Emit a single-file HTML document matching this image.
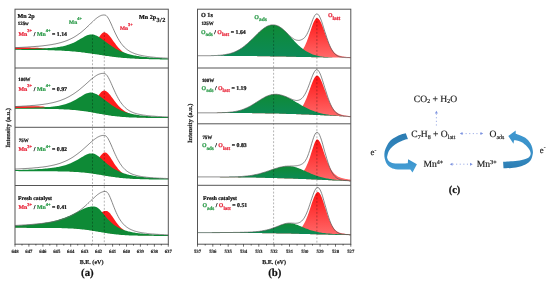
<!DOCTYPE html>
<html><head><meta charset="utf-8"><style>
html,body{margin:0;padding:0;background:#fff;}
body{width:550px;height:285px;overflow:hidden;}
svg{display:block;}
</style></head><body>
<svg width="550" height="285" viewBox="0 0 550 285" font-family="Liberation Serif, serif" text-rendering="geometricPrecision">
<rect width="550" height="285" fill="#fff"/>
<defs><linearGradient id="rg" x1="0" y1="0" x2="0" y2="1"><stop offset="0" stop-color="#ff1414"/><stop offset="1" stop-color="#ff6a6a"/></linearGradient><linearGradient id="gg" x1="0" y1="0" x2="0" y2="1"><stop offset="0" stop-color="#0f8a36"/><stop offset="1" stop-color="#0c8a58"/></linearGradient></defs>
<path d="M15,47.6 L16,47.6 L17,47.6 L18,47.6 L19,47.6 L20,47.6 L21,47.6 L22,47.6 L23,47.6 L24,47.6 L25,47.6 L26,47.6 L27,47.6 L28,47.6 L29,47.6 L30,47.6 L31,47.7 L32,47.7 L33,47.7 L34,47.7 L35,47.7 L36,47.7 L37,47.8 L38,47.8 L39,47.9 L40,47.9 L41.1,48 L42.1,48.2 L43.1,48.3 L44.1,48.4 L45.1,48.6 L46.1,48.8 L47.1,49 L48.1,49.2 L49.1,49.3 L50.1,49.5 L51.1,49.6 L52.1,49.7 L53.1,49.8 L54.1,49.8 L55.1,49.9 L56.1,49.9 L57.1,50 L58.1,50 L59.1,50.1 L60.1,50.1 L61.1,50.1 L62.1,50.2 L63.1,50.2 L64.1,50.2 L65.1,50.3 L66.1,50.3 L67.1,50.3 L68.1,50.4 L69.1,50.4 L70.1,50.4 L71.1,50.5 L72.1,50.5 L73.1,50.5 L74.1,50.6 L75.1,50.6 L76.1,50.6 L77.1,50.6 L78.1,50.6 L79.1,50.6 L80.1,50.6 L81.1,50.6 L82.1,50.5 L83.1,50.4 L84.1,50.3 L85.1,50.1 L86.1,49.9 L87.1,49.6 L88.1,49.2 L89.1,48.7 L90.1,48 L91.1,47.3 L92.2,46.4 L93.2,45.4 L94.2,44.3 L95.2,43 L96.2,41.6 L97.2,40.1 L98.2,38.6 L99.2,37.1 L100.2,35.6 L101.2,34.3 L102.2,33.3 L103.2,32.6 L104.2,32.3 L105.2,32.5 L106.2,32.9 L107.2,33.6 L108.2,34.5 L109.2,35.6 L110.2,36.8 L111.2,38.1 L112.2,39.5 L113.2,40.9 L114.2,42.3 L115.2,43.6 L116.2,45 L117.2,46.2 L118.2,47.4 L119.2,48.5 L120.2,49.6 L121.2,50.5 L122.2,51.4 L123.2,52.2 L124.2,52.9 L125.2,53.5 L126.2,54.1 L127.2,54.6 L128.2,55 L129.2,55.4 L130.2,55.8 L131.2,56.1 L132.2,56.3 L133.2,56.6 L134.2,56.8 L135.2,57 L136.2,57.1 L137.2,57.3 L138.2,57.4 L139.2,57.6 L140.2,57.7 L141.2,57.8 L142.2,57.9 L143.3,58 L144.3,58 L145.3,58.1 L146.3,58.2 L147.3,58.3 L148.3,58.3 L149.3,58.4 L150.3,58.4 L151.3,58.5 L152.3,58.5 L153.3,58.6 L154.3,58.6 L155.3,58.7 L156.3,58.7 L157.3,58.7 L158.3,58.8 L159.3,58.8 L160.3,58.8 L161.3,58.9 L162.3,58.9 L163.3,58.9 L164.3,58.9 L165.3,59 L166.3,59 L167.3,59 L168.3,59 L168.3,58.9 L167.3,58.9 L166.3,58.9 L165.3,58.9 L164.3,58.9 L163.3,58.9 L162.3,58.9 L161.3,58.9 L160.3,58.9 L159.3,58.8 L158.3,58.8 L157.3,58.8 L156.3,58.8 L155.3,58.8 L154.3,58.8 L153.3,58.8 L152.3,58.7 L151.3,58.7 L150.3,58.7 L149.3,58.7 L148.3,58.6 L147.3,58.6 L146.3,58.6 L145.3,58.6 L144.3,58.5 L143.3,58.5 L142.2,58.5 L141.2,58.4 L140.2,58.4 L139.2,58.4 L138.2,58.3 L137.2,58.3 L136.2,58.2 L135.2,58.2 L134.2,58.1 L133.2,58.1 L132.2,58 L131.2,58 L130.2,57.9 L129.2,57.8 L128.2,57.8 L127.2,57.7 L126.2,57.6 L125.2,57.5 L124.2,57.5 L123.2,57.4 L122.2,57.3 L121.2,57.2 L120.2,57.1 L119.2,57 L118.2,56.9 L117.2,56.8 L116.2,56.7 L115.2,56.5 L114.2,56.4 L113.2,56.3 L112.2,56.2 L111.2,56 L110.2,55.9 L109.2,55.8 L108.2,55.6 L107.2,55.5 L106.2,55.4 L105.2,55.2 L104.2,55.1 L103.2,54.9 L102.2,54.8 L101.2,54.6 L100.2,54.5 L99.2,54.3 L98.2,54.1 L97.2,54 L96.2,53.8 L95.2,53.7 L94.2,53.5 L93.2,53.4 L92.2,53.2 L91.1,53.1 L90.1,52.9 L89.1,52.8 L88.1,52.7 L87.1,52.5 L86.1,52.4 L85.1,52.2 L84.1,52.1 L83.1,52 L82.1,51.9 L81.1,51.8 L80.1,51.6 L79.1,51.5 L78.1,51.4 L77.1,51.3 L76.1,51.2 L75.1,51.1 L74.1,51 L73.1,50.9 L72.1,50.9 L71.1,50.8 L70.1,50.7 L69.1,50.6 L68.1,50.5 L67.1,50.5 L66.1,50.4 L65.1,50.4 L64.1,50.3 L63.1,50.2 L62.1,50.2 L61.1,50.1 L60.1,50.1 L59.1,50 L58.1,50 L57.1,50 L56.1,49.9 L55.1,49.9 L54.1,49.8 L53.1,49.8 L52.1,49.8 L51.1,49.8 L50.1,49.7 L49.1,49.7 L48.1,49.7 L47.1,49.6 L46.1,49.6 L45.1,49.6 L44.1,49.6 L43.1,49.6 L42.1,49.5 L41.1,49.5 L40,49.5 L39,49.5 L38,49.5 L37,49.5 L36,49.5 L35,49.5 L34,49.4 L33,49.4 L32,49.4 L31,49.4 L30,49.4 L29,49.4 L28,49.4 L27,49.4 L26,49.4 L25,49.4 L24,49.4 L23,49.4 L22,49.4 L21,49.3 L20,49.3 L19,49.3 L18,49.3 L17,49.3 L16,49.3 L15,49.3Z" fill="#ff1c1c"/>
<path d="M15,49.1 L16,49.1 L17,49.1 L18,49 L19,49 L20,49 L21,49 L22,49 L23,49 L24,48.9 L25,48.9 L26,48.9 L27,48.9 L28,48.9 L29,48.8 L30,48.8 L31,48.8 L32,48.8 L33,48.7 L34,48.7 L35,48.7 L36,48.6 L37,48.6 L38,48.6 L39,48.5 L40,48.5 L41.1,48.5 L42.1,48.4 L43.1,48.4 L44.1,48.3 L45.1,48.3 L46.1,48.2 L47.1,48.2 L48.1,48.1 L49.1,48 L50.1,48 L51.1,47.9 L52.1,47.8 L53.1,47.7 L54.1,47.6 L55.1,47.5 L56.1,47.4 L57.1,47.2 L58.1,47.1 L59.1,46.9 L60.1,46.8 L61.1,46.6 L62.1,46.4 L63.1,46.2 L64.1,46 L65.1,45.7 L66.1,45.4 L67.1,45.1 L68.1,44.8 L69.1,44.5 L70.1,44.1 L71.1,43.7 L72.1,43.3 L73.1,42.9 L74.1,42.4 L75.1,41.9 L76.1,41.4 L77.1,40.8 L78.1,40.3 L79.1,39.7 L80.1,39.1 L81.1,38.5 L82.1,37.9 L83.1,37.4 L84.1,36.8 L85.1,36.3 L86.1,35.8 L87.1,35.3 L88.1,35 L89.1,34.7 L90.1,34.5 L91.1,34.4 L92.2,34.5 L93.2,34.6 L94.2,34.8 L95.2,35.2 L96.2,35.6 L97.2,36 L98.2,36.6 L99.2,37.2 L100.2,37.8 L101.2,38.5 L102.2,39.2 L103.2,40 L104.2,40.7 L105.2,41.5 L106.2,42.2 L107.2,43 L108.2,43.7 L109.2,44.4 L110.2,45.1 L111.2,45.8 L112.2,46.5 L113.2,47.1 L114.2,47.8 L115.2,48.4 L116.2,48.9 L117.2,49.5 L118.2,50 L119.2,50.5 L120.2,51 L121.2,51.4 L122.2,51.8 L123.2,52.2 L124.2,52.6 L125.2,53 L126.2,53.3 L127.2,53.7 L128.2,54 L129.2,54.2 L130.2,54.5 L131.2,54.8 L132.2,55 L133.2,55.2 L134.2,55.4 L135.2,55.6 L136.2,55.8 L137.2,56 L138.2,56.1 L139.2,56.3 L140.2,56.4 L141.2,56.6 L142.2,56.7 L143.3,56.8 L144.3,56.9 L145.3,57 L146.3,57.1 L147.3,57.2 L148.3,57.3 L149.3,57.4 L150.3,57.5 L151.3,57.5 L152.3,57.6 L153.3,57.7 L154.3,57.8 L155.3,57.8 L156.3,57.9 L157.3,57.9 L158.3,58 L159.3,58 L160.3,58.1 L161.3,58.1 L162.3,58.2 L163.3,58.2 L164.3,58.3 L165.3,58.3 L166.3,58.3 L167.3,58.4 L168.3,58.4 L168.3,59.4 L167.3,59.4 L166.3,59.4 L165.3,59.4 L164.3,59.4 L163.3,59.4 L162.3,59.4 L161.3,59.4 L160.3,59.4 L159.3,59.3 L158.3,59.3 L157.3,59.3 L156.3,59.3 L155.3,59.3 L154.3,59.3 L153.3,59.3 L152.3,59.2 L151.3,59.2 L150.3,59.2 L149.3,59.2 L148.3,59.1 L147.3,59.1 L146.3,59.1 L145.3,59.1 L144.3,59 L143.3,59 L142.2,59 L141.2,58.9 L140.2,58.9 L139.2,58.9 L138.2,58.8 L137.2,58.8 L136.2,58.7 L135.2,58.7 L134.2,58.6 L133.2,58.6 L132.2,58.5 L131.2,58.5 L130.2,58.4 L129.2,58.3 L128.2,58.3 L127.2,58.2 L126.2,58.1 L125.2,58 L124.2,58 L123.2,57.9 L122.2,57.8 L121.2,57.7 L120.2,57.6 L119.2,57.5 L118.2,57.4 L117.2,57.3 L116.2,57.2 L115.2,57 L114.2,56.9 L113.2,56.8 L112.2,56.7 L111.2,56.5 L110.2,56.4 L109.2,56.3 L108.2,56.1 L107.2,56 L106.2,55.9 L105.2,55.7 L104.2,55.6 L103.2,55.4 L102.2,55.3 L101.2,55.1 L100.2,55 L99.2,54.8 L98.2,54.6 L97.2,54.5 L96.2,54.3 L95.2,54.2 L94.2,54 L93.2,53.9 L92.2,53.7 L91.1,53.6 L90.1,53.4 L89.1,53.3 L88.1,53.2 L87.1,53 L86.1,52.9 L85.1,52.7 L84.1,52.6 L83.1,52.5 L82.1,52.4 L81.1,52.3 L80.1,52.1 L79.1,52 L78.1,51.9 L77.1,51.8 L76.1,51.7 L75.1,51.6 L74.1,51.5 L73.1,51.4 L72.1,51.4 L71.1,51.3 L70.1,51.2 L69.1,51.1 L68.1,51 L67.1,51 L66.1,50.9 L65.1,50.9 L64.1,50.8 L63.1,50.7 L62.1,50.7 L61.1,50.6 L60.1,50.6 L59.1,50.5 L58.1,50.5 L57.1,50.5 L56.1,50.4 L55.1,50.4 L54.1,50.3 L53.1,50.3 L52.1,50.3 L51.1,50.3 L50.1,50.2 L49.1,50.2 L48.1,50.2 L47.1,50.1 L46.1,50.1 L45.1,50.1 L44.1,50.1 L43.1,50.1 L42.1,50 L41.1,50 L40,50 L39,50 L38,50 L37,50 L36,50 L35,50 L34,49.9 L33,49.9 L32,49.9 L31,49.9 L30,49.9 L29,49.9 L28,49.9 L27,49.9 L26,49.9 L25,49.9 L24,49.9 L23,49.9 L22,49.9 L21,49.8 L20,49.8 L19,49.8 L18,49.8 L17,49.8 L16,49.8 L15,49.8Z" fill="#0e8a36"/>
<path d="M15,47.7 L16,47.6 L17,47.6 L18,47.5 L19,47.5 L20,47.4 L21,47.4 L22,47.3 L23,47.3 L24,47.2 L25,47.2 L26,47.1 L27,47.1 L28,47 L29,46.9 L30,46.9 L31,46.8 L32,46.7 L33,46.7 L34,46.6 L35,46.5 L36,46.4 L37,46.3 L38,46.3 L39,46.2 L40,46.1 L41.1,46 L42.1,45.9 L43.1,45.8 L44.1,45.6 L45.1,45.5 L46.1,45.4 L47.1,45.3 L48.1,45.1 L49.1,45 L50.1,44.8 L51.1,44.7 L52.1,44.5 L53.1,44.3 L54.1,44.1 L55.1,44 L56.1,43.7 L57.1,43.5 L58.1,43.3 L59.1,43 L60.1,42.8 L61.1,42.5 L62.1,42.2 L63.1,41.9 L64.1,41.6 L65.1,41.2 L66.1,40.9 L67.1,40.5 L68.1,40.1 L69.1,39.6 L70.1,39.2 L71.1,38.7 L72.1,38.2 L73.1,37.7 L74.1,37.1 L75.1,36.5 L76.1,35.9 L77.1,35.2 L78.1,34.5 L79.1,33.8 L80.1,33.1 L81.1,32.3 L82.1,31.5 L83.1,30.6 L84.1,29.8 L85.1,28.9 L86.1,28 L87.1,27 L88.1,26 L89.1,25.1 L90.1,24.1 L91.1,23.1 L92.2,22.1 L93.2,21.2 L94.2,20.2 L95.2,19.3 L96.2,18.5 L97.2,17.7 L98.2,17 L99.2,16.4 L100.2,15.9 L101.2,15.4 L102.2,15.2 L103.2,15 L104.2,15 L105.2,15.1 L106.2,15.6 L107.2,16.6 L108.2,18.1 L109.2,19.8 L110.2,21.9 L111.2,24 L112.2,26.3 L113.2,28.6 L114.2,30.8 L115.2,33 L116.2,35 L117.2,37 L118.2,38.8 L119.2,40.4 L120.2,42 L121.2,43.4 L122.2,44.7 L123.2,45.9 L124.2,47 L125.2,47.9 L126.2,48.8 L127.2,49.6 L128.2,50.3 L129.2,51 L130.2,51.6 L131.2,52.1 L132.2,52.6 L133.2,53 L134.2,53.4 L135.2,53.8 L136.2,54.1 L137.2,54.4 L138.2,54.7 L139.2,55 L140.2,55.2 L141.2,55.4 L142.2,55.6 L143.3,55.8 L144.3,56 L145.3,56.2 L146.3,56.3 L147.3,56.5 L148.3,56.6 L149.3,56.7 L150.3,56.9 L151.3,57 L152.3,57.1 L153.3,57.2 L154.3,57.3 L155.3,57.4 L156.3,57.5 L157.3,57.5 L158.3,57.6 L159.3,57.7 L160.3,57.8 L161.3,57.8 L162.3,57.9 L163.3,58 L164.3,58 L165.3,58.1 L166.3,58.1 L167.3,58.2 L168.3,58.2" fill="none" stroke="#6a6a6a" stroke-width="0.8"/>
<path d="M15,106.2 L16,106.2 L17,106.2 L18,106.2 L19,106.2 L20,106.2 L21,106.2 L22,106.2 L23,106.2 L24,106.2 L25,106.2 L26,106.2 L27,106.2 L28,106.2 L29,106.2 L30,106.2 L31,106.2 L32,106.2 L33,106.2 L34,106.2 L35,106.2 L36,106.2 L37,106.3 L38,106.3 L39,106.3 L40,106.4 L41.1,106.4 L42.1,106.5 L43.1,106.6 L44.1,106.8 L45.1,106.9 L46.1,107.1 L47.1,107.3 L48.1,107.5 L49.1,107.7 L50.1,107.8 L51.1,108 L52.1,108.1 L53.1,108.2 L54.1,108.3 L55.1,108.3 L56.1,108.4 L57.1,108.4 L58.1,108.4 L59.1,108.4 L60.1,108.5 L61.1,108.5 L62.1,108.5 L63.1,108.5 L64.1,108.5 L65.1,108.5 L66.1,108.5 L67.1,108.5 L68.1,108.6 L69.1,108.6 L70.1,108.6 L71.1,108.6 L72.1,108.6 L73.1,108.6 L74.1,108.6 L75.1,108.6 L76.1,108.6 L77.1,108.6 L78.1,108.5 L79.1,108.5 L80.1,108.4 L81.1,108.3 L82.1,108.2 L83.1,108 L84.1,107.8 L85.1,107.5 L86.1,107.2 L87.1,106.8 L88.1,106.3 L89.1,105.7 L90.1,105 L91.1,104.2 L92.2,103.3 L93.2,102.3 L94.2,101.2 L95.2,100 L96.2,98.6 L97.2,97.3 L98.2,95.9 L99.2,94.5 L100.2,93.2 L101.2,92.1 L102.2,91.3 L103.2,90.7 L104.2,90.6 L105.2,90.8 L106.2,91.2 L107.2,91.9 L108.2,92.8 L109.2,93.9 L110.2,95.1 L111.2,96.4 L112.2,97.7 L113.2,99 L114.2,100.4 L115.2,101.7 L116.2,103 L117.2,104.2 L118.2,105.4 L119.2,106.5 L120.2,107.5 L121.2,108.4 L122.2,109.3 L123.2,110.1 L124.2,110.8 L125.2,111.5 L126.2,112.1 L127.2,112.6 L128.2,113.1 L129.2,113.5 L130.2,113.9 L131.2,114.2 L132.2,114.5 L133.2,114.8 L134.2,115 L135.2,115.3 L136.2,115.4 L137.2,115.6 L138.2,115.8 L139.2,115.9 L140.2,116 L141.2,116.1 L142.2,116.3 L143.3,116.3 L144.3,116.4 L145.3,116.5 L146.3,116.6 L147.3,116.7 L148.3,116.7 L149.3,116.8 L150.3,116.8 L151.3,116.9 L152.3,116.9 L153.3,117 L154.3,117 L155.3,117.1 L156.3,117.1 L157.3,117.2 L158.3,117.2 L159.3,117.2 L160.3,117.3 L161.3,117.3 L162.3,117.3 L163.3,117.3 L164.3,117.4 L165.3,117.4 L166.3,117.4 L167.3,117.4 L168.3,117.5 L168.3,117.5 L167.3,117.5 L166.3,117.5 L165.3,117.5 L164.3,117.5 L163.3,117.5 L162.3,117.5 L161.3,117.5 L160.3,117.5 L159.3,117.5 L158.3,117.5 L157.3,117.5 L156.3,117.5 L155.3,117.5 L154.3,117.4 L153.3,117.4 L152.3,117.4 L151.3,117.4 L150.3,117.4 L149.3,117.4 L148.3,117.4 L147.3,117.4 L146.3,117.4 L145.3,117.3 L144.3,117.3 L143.3,117.3 L142.2,117.3 L141.2,117.3 L140.2,117.2 L139.2,117.2 L138.2,117.2 L137.2,117.2 L136.2,117.1 L135.2,117.1 L134.2,117.1 L133.2,117 L132.2,117 L131.2,116.9 L130.2,116.9 L129.2,116.9 L128.2,116.8 L127.2,116.7 L126.2,116.7 L125.2,116.6 L124.2,116.6 L123.2,116.5 L122.2,116.4 L121.2,116.3 L120.2,116.2 L119.2,116.1 L118.2,116 L117.2,115.9 L116.2,115.8 L115.2,115.7 L114.2,115.6 L113.2,115.5 L112.2,115.4 L111.2,115.2 L110.2,115.1 L109.2,114.9 L108.2,114.8 L107.2,114.6 L106.2,114.5 L105.2,114.3 L104.2,114.1 L103.2,114 L102.2,113.8 L101.2,113.6 L100.2,113.4 L99.2,113.3 L98.2,113.1 L97.2,112.9 L96.2,112.7 L95.2,112.5 L94.2,112.3 L93.2,112.2 L92.2,112 L91.1,111.8 L90.1,111.6 L89.1,111.5 L88.1,111.3 L87.1,111.1 L86.1,111 L85.1,110.8 L84.1,110.7 L83.1,110.6 L82.1,110.4 L81.1,110.3 L80.1,110.2 L79.1,110 L78.1,109.9 L77.1,109.8 L76.1,109.7 L75.1,109.6 L74.1,109.5 L73.1,109.4 L72.1,109.4 L71.1,109.3 L70.1,109.2 L69.1,109.1 L68.1,109.1 L67.1,109 L66.1,109 L65.1,108.9 L64.1,108.9 L63.1,108.8 L62.1,108.8 L61.1,108.7 L60.1,108.7 L59.1,108.7 L58.1,108.6 L57.1,108.6 L56.1,108.6 L55.1,108.5 L54.1,108.5 L53.1,108.5 L52.1,108.5 L51.1,108.4 L50.1,108.4 L49.1,108.4 L48.1,108.4 L47.1,108.4 L46.1,108.4 L45.1,108.4 L44.1,108.3 L43.1,108.3 L42.1,108.3 L41.1,108.3 L40,108.3 L39,108.3 L38,108.3 L37,108.3 L36,108.3 L35,108.3 L34,108.3 L33,108.3 L32,108.3 L31,108.3 L30,108.2 L29,108.2 L28,108.2 L27,108.2 L26,108.2 L25,108.2 L24,108.2 L23,108.2 L22,108.2 L21,108.2 L20,108.2 L19,108.2 L18,108.2 L17,108.2 L16,108.2 L15,108.2Z" fill="#ff1c1c"/>
<path d="M15,108.1 L16,108 L17,108 L18,108 L19,108 L20,108 L21,108 L22,107.9 L23,107.9 L24,107.9 L25,107.9 L26,107.9 L27,107.8 L28,107.8 L29,107.8 L30,107.8 L31,107.7 L32,107.7 L33,107.7 L34,107.7 L35,107.6 L36,107.6 L37,107.6 L38,107.5 L39,107.5 L40,107.4 L41.1,107.4 L42.1,107.4 L43.1,107.3 L44.1,107.3 L45.1,107.2 L46.1,107.1 L47.1,107.1 L48.1,107 L49.1,106.9 L50.1,106.9 L51.1,106.8 L52.1,106.7 L53.1,106.6 L54.1,106.5 L55.1,106.3 L56.1,106.2 L57.1,106 L58.1,105.9 L59.1,105.7 L60.1,105.5 L61.1,105.3 L62.1,105.1 L63.1,104.8 L64.1,104.5 L65.1,104.3 L66.1,103.9 L67.1,103.6 L68.1,103.2 L69.1,102.8 L70.1,102.4 L71.1,102 L72.1,101.5 L73.1,101 L74.1,100.5 L75.1,99.9 L76.1,99.4 L77.1,98.8 L78.1,98.2 L79.1,97.6 L80.1,97 L81.1,96.4 L82.1,95.8 L83.1,95.2 L84.1,94.6 L85.1,94.1 L86.1,93.6 L87.1,93.3 L88.1,93 L89.1,92.7 L90.1,92.6 L91.1,92.6 L92.2,92.8 L93.2,93 L94.2,93.3 L95.2,93.7 L96.2,94.1 L97.2,94.6 L98.2,95.2 L99.2,95.8 L100.2,96.5 L101.2,97.2 L102.2,97.9 L103.2,98.7 L104.2,99.5 L105.2,100.2 L106.2,101 L107.2,101.8 L108.2,102.5 L109.2,103.3 L110.2,104 L111.2,104.7 L112.2,105.4 L113.2,106.1 L114.2,106.7 L115.2,107.3 L116.2,107.9 L117.2,108.5 L118.2,109 L119.2,109.5 L120.2,110 L121.2,110.5 L122.2,110.9 L123.2,111.3 L124.2,111.7 L125.2,112.1 L126.2,112.4 L127.2,112.7 L128.2,113 L129.2,113.3 L130.2,113.6 L131.2,113.8 L132.2,114 L133.2,114.3 L134.2,114.5 L135.2,114.6 L136.2,114.8 L137.2,115 L138.2,115.1 L139.2,115.3 L140.2,115.4 L141.2,115.5 L142.2,115.6 L143.3,115.7 L144.3,115.8 L145.3,115.9 L146.3,116 L147.3,116.1 L148.3,116.2 L149.3,116.2 L150.3,116.3 L151.3,116.4 L152.3,116.4 L153.3,116.5 L154.3,116.5 L155.3,116.6 L156.3,116.6 L157.3,116.7 L158.3,116.7 L159.3,116.8 L160.3,116.8 L161.3,116.8 L162.3,116.9 L163.3,116.9 L164.3,116.9 L165.3,117 L166.3,117 L167.3,117 L168.3,117.1 L168.3,118 L167.3,118 L166.3,118 L165.3,118 L164.3,118 L163.3,118 L162.3,118 L161.3,118 L160.3,118 L159.3,118 L158.3,118 L157.3,118 L156.3,118 L155.3,118 L154.3,117.9 L153.3,117.9 L152.3,117.9 L151.3,117.9 L150.3,117.9 L149.3,117.9 L148.3,117.9 L147.3,117.9 L146.3,117.9 L145.3,117.8 L144.3,117.8 L143.3,117.8 L142.2,117.8 L141.2,117.8 L140.2,117.7 L139.2,117.7 L138.2,117.7 L137.2,117.7 L136.2,117.6 L135.2,117.6 L134.2,117.6 L133.2,117.5 L132.2,117.5 L131.2,117.4 L130.2,117.4 L129.2,117.4 L128.2,117.3 L127.2,117.2 L126.2,117.2 L125.2,117.1 L124.2,117.1 L123.2,117 L122.2,116.9 L121.2,116.8 L120.2,116.7 L119.2,116.6 L118.2,116.5 L117.2,116.4 L116.2,116.3 L115.2,116.2 L114.2,116.1 L113.2,116 L112.2,115.9 L111.2,115.7 L110.2,115.6 L109.2,115.4 L108.2,115.3 L107.2,115.1 L106.2,115 L105.2,114.8 L104.2,114.6 L103.2,114.5 L102.2,114.3 L101.2,114.1 L100.2,113.9 L99.2,113.8 L98.2,113.6 L97.2,113.4 L96.2,113.2 L95.2,113 L94.2,112.8 L93.2,112.7 L92.2,112.5 L91.1,112.3 L90.1,112.1 L89.1,112 L88.1,111.8 L87.1,111.6 L86.1,111.5 L85.1,111.3 L84.1,111.2 L83.1,111.1 L82.1,110.9 L81.1,110.8 L80.1,110.7 L79.1,110.5 L78.1,110.4 L77.1,110.3 L76.1,110.2 L75.1,110.1 L74.1,110 L73.1,109.9 L72.1,109.9 L71.1,109.8 L70.1,109.7 L69.1,109.6 L68.1,109.6 L67.1,109.5 L66.1,109.5 L65.1,109.4 L64.1,109.4 L63.1,109.3 L62.1,109.3 L61.1,109.2 L60.1,109.2 L59.1,109.2 L58.1,109.1 L57.1,109.1 L56.1,109.1 L55.1,109 L54.1,109 L53.1,109 L52.1,109 L51.1,108.9 L50.1,108.9 L49.1,108.9 L48.1,108.9 L47.1,108.9 L46.1,108.9 L45.1,108.9 L44.1,108.8 L43.1,108.8 L42.1,108.8 L41.1,108.8 L40,108.8 L39,108.8 L38,108.8 L37,108.8 L36,108.8 L35,108.8 L34,108.8 L33,108.8 L32,108.8 L31,108.8 L30,108.7 L29,108.7 L28,108.7 L27,108.7 L26,108.7 L25,108.7 L24,108.7 L23,108.7 L22,108.7 L21,108.7 L20,108.7 L19,108.7 L18,108.7 L17,108.7 L16,108.7 L15,108.7Z" fill="#0e8a36"/>
<path d="M15,106.5 L16,106.5 L17,106.5 L18,106.4 L19,106.4 L20,106.3 L21,106.3 L22,106.2 L23,106.1 L24,106.1 L25,106 L26,106 L27,105.9 L28,105.8 L29,105.8 L30,105.7 L31,105.6 L32,105.5 L33,105.4 L34,105.4 L35,105.3 L36,105.2 L37,105.1 L38,105 L39,104.9 L40,104.8 L41.1,104.6 L42.1,104.5 L43.1,104.4 L44.1,104.2 L45.1,104.1 L46.1,103.9 L47.1,103.8 L48.1,103.6 L49.1,103.4 L50.1,103.2 L51.1,103 L52.1,102.8 L53.1,102.6 L54.1,102.3 L55.1,102.1 L56.1,101.8 L57.1,101.5 L58.1,101.2 L59.1,100.9 L60.1,100.6 L61.1,100.2 L62.1,99.8 L63.1,99.4 L64.1,99 L65.1,98.6 L66.1,98.1 L67.1,97.6 L68.1,97.1 L69.1,96.6 L70.1,96 L71.1,95.4 L72.1,94.8 L73.1,94.2 L74.1,93.5 L75.1,92.9 L76.1,92.1 L77.1,91.4 L78.1,90.7 L79.1,89.9 L80.1,89.1 L81.1,88.2 L82.1,87.4 L83.1,86.5 L84.1,85.7 L85.1,84.8 L86.1,83.9 L87.1,83 L88.1,82.1 L89.1,81.2 L90.1,80.3 L91.1,79.4 L92.2,78.6 L93.2,77.8 L94.2,77 L95.2,76.3 L96.2,75.6 L97.2,75 L98.2,74.5 L99.2,74.1 L100.2,73.8 L101.2,73.5 L102.2,73.4 L103.2,73.4 L104.2,73.4 L105.2,73.8 L106.2,74.5 L107.2,75.7 L108.2,77.3 L109.2,79.2 L110.2,81.2 L111.2,83.4 L112.2,85.7 L113.2,88 L114.2,90.2 L115.2,92.4 L116.2,94.5 L117.2,96.4 L118.2,98.3 L119.2,100 L120.2,101.6 L121.2,103 L122.2,104.3 L123.2,105.5 L124.2,106.6 L125.2,107.6 L126.2,108.5 L127.2,109.3 L128.2,110 L129.2,110.7 L130.2,111.2 L131.2,111.7 L132.2,112.2 L133.2,112.6 L134.2,113 L135.2,113.3 L136.2,113.6 L137.2,113.9 L138.2,114.1 L139.2,114.3 L140.2,114.5 L141.2,114.7 L142.2,114.9 L143.3,115.1 L144.3,115.2 L145.3,115.3 L146.3,115.5 L147.3,115.6 L148.3,115.7 L149.3,115.8 L150.3,115.9 L151.3,116 L152.3,116.1 L153.3,116.1 L154.3,116.2 L155.3,116.3 L156.3,116.4 L157.3,116.4 L158.3,116.5 L159.3,116.5 L160.3,116.6 L161.3,116.6 L162.3,116.7 L163.3,116.7 L164.3,116.8 L165.3,116.8 L166.3,116.9 L167.3,116.9 L168.3,116.9" fill="none" stroke="#6a6a6a" stroke-width="0.8"/>
<path d="M15,171 L16,171 L17,171 L18,171 L19,171 L20,171 L21,171 L22,171 L23,171 L24,171 L25,170.9 L26,170.9 L27,170.9 L28,170.9 L29,170.9 L30,170.9 L31,170.9 L32,170.9 L33,170.9 L34,170.9 L35,170.9 L36,170.9 L37,170.9 L38,170.9 L39,170.9 L40,170.9 L41.1,170.9 L42.1,170.9 L43.1,170.9 L44.1,170.9 L45.1,170.9 L46.1,170.8 L47.1,170.8 L48.1,170.8 L49.1,170.8 L50.1,170.8 L51.1,170.8 L52.1,170.8 L53.1,170.8 L54.1,170.8 L55.1,170.8 L56.1,170.8 L57.1,170.8 L58.1,170.8 L59.1,170.8 L60.1,170.8 L61.1,170.8 L62.1,170.7 L63.1,170.7 L64.1,170.7 L65.1,170.7 L66.1,170.7 L67.1,170.7 L68.1,170.7 L69.1,170.7 L70.1,170.7 L71.1,170.7 L72.1,170.6 L73.1,170.6 L74.1,170.6 L75.1,170.6 L76.1,170.5 L77.1,170.5 L78.1,170.5 L79.1,170.4 L80.1,170.3 L81.1,170.2 L82.1,170.1 L83.1,170 L84.1,169.8 L85.1,169.5 L86.1,169.3 L87.1,168.9 L88.1,168.5 L89.1,168 L90.1,167.4 L91.1,166.7 L92.2,165.9 L93.2,165 L94.2,163.9 L95.2,162.8 L96.2,161.6 L97.2,160.3 L98.2,158.9 L99.2,157.5 L100.2,156.2 L101.2,154.9 L102.2,153.9 L103.2,153 L104.2,152.6 L105.2,152.5 L106.2,152.8 L107.2,153.5 L108.2,154.5 L109.2,155.7 L110.2,157.1 L111.2,158.7 L112.2,160.2 L113.2,161.8 L114.2,163.4 L115.2,164.9 L116.2,166.3 L117.2,167.6 L118.2,168.9 L119.2,170 L120.2,171 L121.2,171.9 L122.2,172.7 L123.2,173.4 L124.2,174 L125.2,174.6 L126.2,175 L127.2,175.5 L128.2,175.8 L129.2,176.1 L130.2,176.4 L131.2,176.7 L132.2,176.9 L133.2,177.1 L134.2,177.3 L135.2,177.4 L136.2,177.6 L137.2,177.7 L138.2,177.8 L139.2,177.9 L140.2,178 L141.2,178.1 L142.2,178.2 L143.3,178.2 L144.3,178.3 L145.3,178.4 L146.3,178.4 L147.3,178.5 L148.3,178.6 L149.3,178.6 L150.3,178.7 L151.3,178.7 L152.3,178.7 L153.3,178.8 L154.3,178.8 L155.3,178.8 L156.3,178.9 L157.3,178.9 L158.3,178.9 L159.3,179 L160.3,179 L161.3,179 L162.3,179 L163.3,179 L164.3,179.1 L165.3,179.1 L166.3,179.1 L167.3,179.1 L168.3,179.1 L168.3,179 L167.3,179 L166.3,179 L165.3,179 L164.3,179 L163.3,179 L162.3,179 L161.3,179 L160.3,179 L159.3,179 L158.3,179 L157.3,178.9 L156.3,178.9 L155.3,178.9 L154.3,178.9 L153.3,178.9 L152.3,178.9 L151.3,178.9 L150.3,178.9 L149.3,178.9 L148.3,178.8 L147.3,178.8 L146.3,178.8 L145.3,178.8 L144.3,178.8 L143.3,178.7 L142.2,178.7 L141.2,178.7 L140.2,178.7 L139.2,178.6 L138.2,178.6 L137.2,178.5 L136.2,178.5 L135.2,178.5 L134.2,178.4 L133.2,178.4 L132.2,178.3 L131.2,178.3 L130.2,178.2 L129.2,178.1 L128.2,178.1 L127.2,178 L126.2,177.9 L125.2,177.8 L124.2,177.8 L123.2,177.7 L122.2,177.6 L121.2,177.5 L120.2,177.4 L119.2,177.3 L118.2,177.1 L117.2,177 L116.2,176.9 L115.2,176.8 L114.2,176.6 L113.2,176.5 L112.2,176.3 L111.2,176.2 L110.2,176 L109.2,175.9 L108.2,175.7 L107.2,175.5 L106.2,175.4 L105.2,175.2 L104.2,175 L103.2,174.9 L102.2,174.7 L101.2,174.5 L100.2,174.3 L99.2,174.2 L98.2,174 L97.2,173.9 L96.2,173.7 L95.2,173.5 L94.2,173.4 L93.2,173.2 L92.2,173.1 L91.1,173 L90.1,172.8 L89.1,172.7 L88.1,172.6 L87.1,172.5 L86.1,172.3 L85.1,172.2 L84.1,172.1 L83.1,172 L82.1,171.9 L81.1,171.9 L80.1,171.8 L79.1,171.7 L78.1,171.6 L77.1,171.6 L76.1,171.5 L75.1,171.4 L74.1,171.4 L73.1,171.3 L72.1,171.3 L71.1,171.2 L70.1,171.2 L69.1,171.1 L68.1,171.1 L67.1,171.1 L66.1,171 L65.1,171 L64.1,171 L63.1,171 L62.1,170.9 L61.1,170.9 L60.1,170.9 L59.1,170.9 L58.1,170.9 L57.1,170.8 L56.1,170.8 L55.1,170.8 L54.1,170.8 L53.1,170.8 L52.1,170.8 L51.1,170.8 L50.1,170.8 L49.1,170.7 L48.1,170.7 L47.1,170.7 L46.1,170.7 L45.1,170.7 L44.1,170.7 L43.1,170.7 L42.1,170.7 L41.1,170.7 L40,170.7 L39,170.7 L38,170.7 L37,170.7 L36,170.7 L35,170.7 L34,170.7 L33,170.7 L32,170.7 L31,170.7 L30,170.7 L29,170.7 L28,170.7 L27,170.7 L26,170.7 L25,170.7 L24,170.7 L23,170.7 L22,170.7 L21,170.7 L20,170.7 L19,170.7 L18,170.6 L17,170.6 L16,170.6 L15,170.6Z" fill="#ff1c1c"/>
<path d="M15,170.1 L16,170.1 L17,170 L18,170 L19,170 L20,169.9 L21,169.9 L22,169.9 L23,169.8 L24,169.8 L25,169.8 L26,169.7 L27,169.7 L28,169.7 L29,169.6 L30,169.6 L31,169.5 L32,169.5 L33,169.4 L34,169.4 L35,169.3 L36,169.3 L37,169.2 L38,169.1 L39,169.1 L40,169 L41.1,168.9 L42.1,168.9 L43.1,168.8 L44.1,168.7 L45.1,168.6 L46.1,168.5 L47.1,168.4 L48.1,168.3 L49.1,168.2 L50.1,168.1 L51.1,168 L52.1,167.8 L53.1,167.7 L54.1,167.5 L55.1,167.4 L56.1,167.2 L57.1,167.1 L58.1,166.9 L59.1,166.7 L60.1,166.5 L61.1,166.2 L62.1,166 L63.1,165.7 L64.1,165.5 L65.1,165.2 L66.1,164.9 L67.1,164.5 L68.1,164.2 L69.1,163.8 L70.1,163.4 L71.1,163 L72.1,162.6 L73.1,162.1 L74.1,161.6 L75.1,161.1 L76.1,160.6 L77.1,160 L78.1,159.4 L79.1,158.8 L80.1,158.2 L81.1,157.6 L82.1,157 L83.1,156.4 L84.1,155.8 L85.1,155.2 L86.1,154.7 L87.1,154.3 L88.1,153.9 L89.1,153.6 L90.1,153.4 L91.1,153.4 L92.2,153.4 L93.2,153.6 L94.2,153.8 L95.2,154.3 L96.2,154.8 L97.2,155.4 L98.2,156.1 L99.2,156.9 L100.2,157.7 L101.2,158.6 L102.2,159.5 L103.2,160.4 L104.2,161.3 L105.2,162.2 L106.2,163.1 L107.2,163.9 L108.2,164.8 L109.2,165.5 L110.2,166.3 L111.2,167 L112.2,167.7 L113.2,168.4 L114.2,169 L115.2,169.6 L116.2,170.1 L117.2,170.6 L118.2,171.1 L119.2,171.6 L120.2,172 L121.2,172.4 L122.2,172.8 L123.2,173.2 L124.2,173.5 L125.2,173.8 L126.2,174.1 L127.2,174.4 L128.2,174.6 L129.2,174.9 L130.2,175.1 L131.2,175.3 L132.2,175.5 L133.2,175.7 L134.2,175.9 L135.2,176.1 L136.2,176.2 L137.2,176.4 L138.2,176.5 L139.2,176.6 L140.2,176.8 L141.2,176.9 L142.2,177 L143.3,177.1 L144.3,177.2 L145.3,177.3 L146.3,177.4 L147.3,177.5 L148.3,177.5 L149.3,177.6 L150.3,177.7 L151.3,177.7 L152.3,177.8 L153.3,177.9 L154.3,177.9 L155.3,178 L156.3,178 L157.3,178.1 L158.3,178.1 L159.3,178.2 L160.3,178.2 L161.3,178.2 L162.3,178.3 L163.3,178.3 L164.3,178.4 L165.3,178.4 L166.3,178.4 L167.3,178.5 L168.3,178.5 L168.3,179.5 L167.3,179.5 L166.3,179.5 L165.3,179.5 L164.3,179.5 L163.3,179.5 L162.3,179.5 L161.3,179.5 L160.3,179.5 L159.3,179.5 L158.3,179.5 L157.3,179.4 L156.3,179.4 L155.3,179.4 L154.3,179.4 L153.3,179.4 L152.3,179.4 L151.3,179.4 L150.3,179.4 L149.3,179.4 L148.3,179.3 L147.3,179.3 L146.3,179.3 L145.3,179.3 L144.3,179.3 L143.3,179.2 L142.2,179.2 L141.2,179.2 L140.2,179.2 L139.2,179.1 L138.2,179.1 L137.2,179 L136.2,179 L135.2,179 L134.2,178.9 L133.2,178.9 L132.2,178.8 L131.2,178.8 L130.2,178.7 L129.2,178.6 L128.2,178.6 L127.2,178.5 L126.2,178.4 L125.2,178.3 L124.2,178.3 L123.2,178.2 L122.2,178.1 L121.2,178 L120.2,177.9 L119.2,177.8 L118.2,177.6 L117.2,177.5 L116.2,177.4 L115.2,177.3 L114.2,177.1 L113.2,177 L112.2,176.8 L111.2,176.7 L110.2,176.5 L109.2,176.4 L108.2,176.2 L107.2,176 L106.2,175.9 L105.2,175.7 L104.2,175.5 L103.2,175.4 L102.2,175.2 L101.2,175 L100.2,174.8 L99.2,174.7 L98.2,174.5 L97.2,174.4 L96.2,174.2 L95.2,174 L94.2,173.9 L93.2,173.7 L92.2,173.6 L91.1,173.5 L90.1,173.3 L89.1,173.2 L88.1,173.1 L87.1,173 L86.1,172.8 L85.1,172.7 L84.1,172.6 L83.1,172.5 L82.1,172.4 L81.1,172.4 L80.1,172.3 L79.1,172.2 L78.1,172.1 L77.1,172.1 L76.1,172 L75.1,171.9 L74.1,171.9 L73.1,171.8 L72.1,171.8 L71.1,171.7 L70.1,171.7 L69.1,171.6 L68.1,171.6 L67.1,171.6 L66.1,171.5 L65.1,171.5 L64.1,171.5 L63.1,171.5 L62.1,171.4 L61.1,171.4 L60.1,171.4 L59.1,171.4 L58.1,171.4 L57.1,171.3 L56.1,171.3 L55.1,171.3 L54.1,171.3 L53.1,171.3 L52.1,171.3 L51.1,171.3 L50.1,171.3 L49.1,171.2 L48.1,171.2 L47.1,171.2 L46.1,171.2 L45.1,171.2 L44.1,171.2 L43.1,171.2 L42.1,171.2 L41.1,171.2 L40,171.2 L39,171.2 L38,171.2 L37,171.2 L36,171.2 L35,171.2 L34,171.2 L33,171.2 L32,171.2 L31,171.2 L30,171.2 L29,171.2 L28,171.2 L27,171.2 L26,171.2 L25,171.2 L24,171.2 L23,171.2 L22,171.2 L21,171.2 L20,171.2 L19,171.2 L18,171.1 L17,171.1 L16,171.1 L15,171.1Z" fill="#0e8a36"/>
<path d="M15,169.1 L16,169 L17,169 L18,168.9 L19,168.9 L20,168.8 L21,168.8 L22,168.7 L23,168.7 L24,168.6 L25,168.6 L26,168.5 L27,168.4 L28,168.4 L29,168.3 L30,168.2 L31,168.2 L32,168.1 L33,168 L34,167.9 L35,167.8 L36,167.7 L37,167.7 L38,167.6 L39,167.4 L40,167.3 L41.1,167.2 L42.1,167.1 L43.1,167 L44.1,166.8 L45.1,166.7 L46.1,166.5 L47.1,166.4 L48.1,166.2 L49.1,166 L50.1,165.8 L51.1,165.7 L52.1,165.4 L53.1,165.2 L54.1,165 L55.1,164.7 L56.1,164.5 L57.1,164.2 L58.1,163.9 L59.1,163.6 L60.1,163.3 L61.1,162.9 L62.1,162.5 L63.1,162.1 L64.1,161.7 L65.1,161.3 L66.1,160.8 L67.1,160.4 L68.1,159.9 L69.1,159.3 L70.1,158.8 L71.1,158.2 L72.1,157.6 L73.1,157 L74.1,156.3 L75.1,155.6 L76.1,154.9 L77.1,154.2 L78.1,153.4 L79.1,152.7 L80.1,151.8 L81.1,151 L82.1,150.2 L83.1,149.3 L84.1,148.4 L85.1,147.5 L86.1,146.6 L87.1,145.7 L88.1,144.8 L89.1,143.9 L90.1,142.9 L91.1,142.1 L92.2,141.2 L93.2,140.3 L94.2,139.5 L95.2,138.8 L96.2,138.1 L97.2,137.4 L98.2,136.9 L99.2,136.4 L100.2,136 L101.2,135.7 L102.2,135.5 L103.2,135.4 L104.2,135.5 L105.2,135.6 L106.2,136.2 L107.2,137.3 L108.2,138.8 L109.2,140.7 L110.2,142.8 L111.2,145 L112.2,147.4 L113.2,149.7 L114.2,152.1 L115.2,154.3 L116.2,156.4 L117.2,158.5 L118.2,160.3 L119.2,162.1 L120.2,163.7 L121.2,165.1 L122.2,166.5 L123.2,167.7 L124.2,168.7 L125.2,169.7 L126.2,170.6 L127.2,171.3 L128.2,172 L129.2,172.6 L130.2,173.2 L131.2,173.6 L132.2,174.1 L133.2,174.5 L134.2,174.8 L135.2,175.1 L136.2,175.4 L137.2,175.6 L138.2,175.9 L139.2,176.1 L140.2,176.3 L141.2,176.5 L142.2,176.6 L143.3,176.8 L144.3,176.9 L145.3,177 L146.3,177.2 L147.3,177.3 L148.3,177.4 L149.3,177.5 L150.3,177.6 L151.3,177.7 L152.3,177.7 L153.3,177.8 L154.3,177.9 L155.3,177.9 L156.3,178 L157.3,178.1 L158.3,178.1 L159.3,178.2 L160.3,178.2 L161.3,178.3 L162.3,178.3 L163.3,178.4 L164.3,178.4 L165.3,178.4 L166.3,178.5 L167.3,178.5 L168.3,178.6" fill="none" stroke="#6a6a6a" stroke-width="0.8"/>
<path d="M15,227.6 L16,227.5 L17,227.5 L18,227.5 L19,227.5 L20,227.5 L21,227.5 L22,227.5 L23,227.5 L24,227.5 L25,227.5 L26,227.5 L27,227.5 L28,227.5 L29,227.5 L30,227.4 L31,227.4 L32,227.4 L33,227.4 L34,227.4 L35,227.4 L36,227.4 L37,227.4 L38,227.4 L39,227.4 L40,227.3 L41.1,227.3 L42.1,227.3 L43.1,227.3 L44.1,227.3 L45.1,227.3 L46.1,227.3 L47.1,227.3 L48.1,227.2 L49.1,227.2 L50.1,227.2 L51.1,227.2 L52.1,227.2 L53.1,227.2 L54.1,227.1 L55.1,227.1 L56.1,227.1 L57.1,227.1 L58.1,227.1 L59.1,227.1 L60.1,227 L61.1,227 L62.1,227 L63.1,227 L64.1,226.9 L65.1,226.9 L66.1,226.9 L67.1,226.9 L68.1,226.8 L69.1,226.8 L70.1,226.7 L71.1,226.7 L72.1,226.6 L73.1,226.6 L74.1,226.5 L75.1,226.4 L76.1,226.3 L77.1,226.2 L78.1,226 L79.1,225.9 L80.1,225.7 L81.1,225.4 L82.1,225.2 L83.1,224.9 L84.1,224.6 L85.1,224.2 L86.1,223.8 L87.1,223.3 L88.1,222.8 L89.1,222.2 L90.1,221.6 L91.1,220.9 L92.2,220.2 L93.2,219.4 L94.2,218.6 L95.2,217.8 L96.2,216.9 L97.2,216 L98.2,215.1 L99.2,214.2 L100.2,213.4 L101.2,212.6 L102.2,212 L103.2,211.4 L104.2,211.1 L105.2,210.9 L106.2,210.9 L107.2,211.1 L108.2,211.7 L109.2,212.5 L110.2,213.6 L111.2,214.9 L112.2,216.3 L113.2,217.8 L114.2,219.3 L115.2,220.8 L116.2,222.2 L117.2,223.5 L118.2,224.8 L119.2,225.9 L120.2,227 L121.2,228 L122.2,228.8 L123.2,229.6 L124.2,230.3 L125.2,230.9 L126.2,231.4 L127.2,231.9 L128.2,232.3 L129.2,232.6 L130.2,232.9 L131.2,233.2 L132.2,233.4 L133.2,233.6 L134.2,233.8 L135.2,233.9 L136.2,234.1 L137.2,234.2 L138.2,234.3 L139.2,234.4 L140.2,234.5 L141.2,234.6 L142.2,234.6 L143.3,234.7 L144.3,234.8 L145.3,234.8 L146.3,234.9 L147.3,234.9 L148.3,235 L149.3,235 L150.3,235.1 L151.3,235.1 L152.3,235.2 L153.3,235.2 L154.3,235.2 L155.3,235.2 L156.3,235.3 L157.3,235.3 L158.3,235.3 L159.3,235.4 L160.3,235.4 L161.3,235.4 L162.3,235.4 L163.3,235.4 L164.3,235.5 L165.3,235.5 L166.3,235.5 L167.3,235.5 L168.3,235.5 L168.3,235.4 L167.3,235.4 L166.3,235.4 L165.3,235.4 L164.3,235.4 L163.3,235.4 L162.3,235.4 L161.3,235.4 L160.3,235.4 L159.3,235.4 L158.3,235.4 L157.3,235.4 L156.3,235.4 L155.3,235.4 L154.3,235.4 L153.3,235.3 L152.3,235.3 L151.3,235.3 L150.3,235.3 L149.3,235.3 L148.3,235.3 L147.3,235.3 L146.3,235.3 L145.3,235.3 L144.3,235.3 L143.3,235.2 L142.2,235.2 L141.2,235.2 L140.2,235.2 L139.2,235.2 L138.2,235.2 L137.2,235.1 L136.2,235.1 L135.2,235.1 L134.2,235.1 L133.2,235 L132.2,235 L131.2,235 L130.2,234.9 L129.2,234.9 L128.2,234.8 L127.2,234.8 L126.2,234.7 L125.2,234.7 L124.2,234.6 L123.2,234.5 L122.2,234.5 L121.2,234.4 L120.2,234.3 L119.2,234.2 L118.2,234.1 L117.2,234 L116.2,233.9 L115.2,233.8 L114.2,233.7 L113.2,233.6 L112.2,233.5 L111.2,233.3 L110.2,233.2 L109.2,233.1 L108.2,232.9 L107.2,232.8 L106.2,232.6 L105.2,232.5 L104.2,232.3 L103.2,232.1 L102.2,231.9 L101.2,231.8 L100.2,231.6 L99.2,231.4 L98.2,231.2 L97.2,231.1 L96.2,230.9 L95.2,230.7 L94.2,230.6 L93.2,230.4 L92.2,230.2 L91.1,230.1 L90.1,229.9 L89.1,229.8 L88.1,229.6 L87.1,229.5 L86.1,229.3 L85.1,229.2 L84.1,229.1 L83.1,229 L82.1,228.9 L81.1,228.8 L80.1,228.7 L79.1,228.6 L78.1,228.5 L77.1,228.4 L76.1,228.3 L75.1,228.2 L74.1,228.2 L73.1,228.1 L72.1,228.1 L71.1,228 L70.1,227.9 L69.1,227.9 L68.1,227.9 L67.1,227.8 L66.1,227.8 L65.1,227.7 L64.1,227.7 L63.1,227.7 L62.1,227.7 L61.1,227.6 L60.1,227.6 L59.1,227.6 L58.1,227.6 L57.1,227.5 L56.1,227.5 L55.1,227.5 L54.1,227.5 L53.1,227.5 L52.1,227.5 L51.1,227.5 L50.1,227.4 L49.1,227.4 L48.1,227.4 L47.1,227.4 L46.1,227.4 L45.1,227.4 L44.1,227.4 L43.1,227.4 L42.1,227.4 L41.1,227.4 L40,227.4 L39,227.4 L38,227.4 L37,227.4 L36,227.4 L35,227.4 L34,227.4 L33,227.4 L32,227.4 L31,227.4 L30,227.4 L29,227.4 L28,227.4 L27,227.4 L26,227.3 L25,227.3 L24,227.3 L23,227.3 L22,227.3 L21,227.3 L20,227.3 L19,227.3 L18,227.3 L17,227.3 L16,227.3 L15,227.3Z" fill="#ff1c1c"/>
<path d="M15,225.6 L16,225.5 L17,225.5 L18,225.4 L19,225.4 L20,225.3 L21,225.3 L22,225.2 L23,225.1 L24,225.1 L25,225 L26,224.9 L27,224.8 L28,224.8 L29,224.7 L30,224.6 L31,224.5 L32,224.4 L33,224.3 L34,224.2 L35,224.1 L36,224 L37,223.9 L38,223.8 L39,223.7 L40,223.5 L41.1,223.4 L42.1,223.2 L43.1,223.1 L44.1,222.9 L45.1,222.8 L46.1,222.6 L47.1,222.4 L48.1,222.3 L49.1,222.1 L50.1,221.9 L51.1,221.7 L52.1,221.4 L53.1,221.2 L54.1,221 L55.1,220.7 L56.1,220.5 L57.1,220.2 L58.1,219.9 L59.1,219.6 L60.1,219.3 L61.1,219 L62.1,218.6 L63.1,218.3 L64.1,217.9 L65.1,217.6 L66.1,217.2 L67.1,216.8 L68.1,216.3 L69.1,215.9 L70.1,215.5 L71.1,215 L72.1,214.5 L73.1,214 L74.1,213.6 L75.1,213.1 L76.1,212.5 L77.1,212 L78.1,211.5 L79.1,211 L80.1,210.5 L81.1,210 L82.1,209.5 L83.1,209 L84.1,208.6 L85.1,208.2 L86.1,207.8 L87.1,207.4 L88.1,207.1 L89.1,206.9 L90.1,206.7 L91.1,206.6 L92.2,206.5 L93.2,206.5 L94.2,206.6 L95.2,206.7 L96.2,207.1 L97.2,207.6 L98.2,208.3 L99.2,209.1 L100.2,210.1 L101.2,211.2 L102.2,212.4 L103.2,213.6 L104.2,214.8 L105.2,216 L106.2,217.2 L107.2,218.4 L108.2,219.5 L109.2,220.5 L110.2,221.5 L111.2,222.5 L112.2,223.3 L113.2,224.2 L114.2,224.9 L115.2,225.7 L116.2,226.3 L117.2,226.9 L118.2,227.5 L119.2,228 L120.2,228.5 L121.2,229 L122.2,229.4 L123.2,229.8 L124.2,230.2 L125.2,230.5 L126.2,230.8 L127.2,231.1 L128.2,231.4 L129.2,231.6 L130.2,231.8 L131.2,232 L132.2,232.2 L133.2,232.4 L134.2,232.6 L135.2,232.8 L136.2,232.9 L137.2,233 L138.2,233.2 L139.2,233.3 L140.2,233.4 L141.2,233.5 L142.2,233.6 L143.3,233.7 L144.3,233.8 L145.3,233.9 L146.3,234 L147.3,234 L148.3,234.1 L149.3,234.2 L150.3,234.2 L151.3,234.3 L152.3,234.4 L153.3,234.4 L154.3,234.5 L155.3,234.5 L156.3,234.6 L157.3,234.6 L158.3,234.6 L159.3,234.7 L160.3,234.7 L161.3,234.8 L162.3,234.8 L163.3,234.8 L164.3,234.9 L165.3,234.9 L166.3,234.9 L167.3,234.9 L168.3,235 L168.3,235.9 L167.3,235.9 L166.3,235.9 L165.3,235.9 L164.3,235.9 L163.3,235.9 L162.3,235.9 L161.3,235.9 L160.3,235.9 L159.3,235.9 L158.3,235.9 L157.3,235.9 L156.3,235.9 L155.3,235.9 L154.3,235.9 L153.3,235.8 L152.3,235.8 L151.3,235.8 L150.3,235.8 L149.3,235.8 L148.3,235.8 L147.3,235.8 L146.3,235.8 L145.3,235.8 L144.3,235.8 L143.3,235.7 L142.2,235.7 L141.2,235.7 L140.2,235.7 L139.2,235.7 L138.2,235.7 L137.2,235.6 L136.2,235.6 L135.2,235.6 L134.2,235.6 L133.2,235.5 L132.2,235.5 L131.2,235.5 L130.2,235.4 L129.2,235.4 L128.2,235.3 L127.2,235.3 L126.2,235.2 L125.2,235.2 L124.2,235.1 L123.2,235 L122.2,235 L121.2,234.9 L120.2,234.8 L119.2,234.7 L118.2,234.6 L117.2,234.5 L116.2,234.4 L115.2,234.3 L114.2,234.2 L113.2,234.1 L112.2,234 L111.2,233.8 L110.2,233.7 L109.2,233.6 L108.2,233.4 L107.2,233.3 L106.2,233.1 L105.2,233 L104.2,232.8 L103.2,232.6 L102.2,232.4 L101.2,232.3 L100.2,232.1 L99.2,231.9 L98.2,231.7 L97.2,231.6 L96.2,231.4 L95.2,231.2 L94.2,231.1 L93.2,230.9 L92.2,230.7 L91.1,230.6 L90.1,230.4 L89.1,230.3 L88.1,230.1 L87.1,230 L86.1,229.8 L85.1,229.7 L84.1,229.6 L83.1,229.5 L82.1,229.4 L81.1,229.3 L80.1,229.2 L79.1,229.1 L78.1,229 L77.1,228.9 L76.1,228.8 L75.1,228.7 L74.1,228.7 L73.1,228.6 L72.1,228.6 L71.1,228.5 L70.1,228.4 L69.1,228.4 L68.1,228.4 L67.1,228.3 L66.1,228.3 L65.1,228.2 L64.1,228.2 L63.1,228.2 L62.1,228.2 L61.1,228.1 L60.1,228.1 L59.1,228.1 L58.1,228.1 L57.1,228 L56.1,228 L55.1,228 L54.1,228 L53.1,228 L52.1,228 L51.1,228 L50.1,227.9 L49.1,227.9 L48.1,227.9 L47.1,227.9 L46.1,227.9 L45.1,227.9 L44.1,227.9 L43.1,227.9 L42.1,227.9 L41.1,227.9 L40,227.9 L39,227.9 L38,227.9 L37,227.9 L36,227.9 L35,227.9 L34,227.9 L33,227.9 L32,227.9 L31,227.9 L30,227.9 L29,227.9 L28,227.9 L27,227.9 L26,227.8 L25,227.8 L24,227.8 L23,227.8 L22,227.8 L21,227.8 L20,227.8 L19,227.8 L18,227.8 L17,227.8 L16,227.8 L15,227.8Z" fill="#0e8a36"/>
<path d="M15,225.5 L16,225.4 L17,225.4 L18,225.3 L19,225.3 L20,225.2 L21,225.2 L22,225.1 L23,225 L24,225 L25,224.9 L26,224.9 L27,224.8 L28,224.7 L29,224.6 L30,224.6 L31,224.5 L32,224.4 L33,224.3 L34,224.2 L35,224.1 L36,224 L37,223.9 L38,223.8 L39,223.7 L40,223.6 L41.1,223.5 L42.1,223.4 L43.1,223.3 L44.1,223.1 L45.1,223 L46.1,222.8 L47.1,222.7 L48.1,222.5 L49.1,222.4 L50.1,222.2 L51.1,222 L52.1,221.8 L53.1,221.6 L54.1,221.4 L55.1,221.2 L56.1,221 L57.1,220.7 L58.1,220.5 L59.1,220.2 L60.1,219.9 L61.1,219.6 L62.1,219.3 L63.1,219 L64.1,218.7 L65.1,218.3 L66.1,217.9 L67.1,217.5 L68.1,217.1 L69.1,216.7 L70.1,216.2 L71.1,215.7 L72.1,215.2 L73.1,214.7 L74.1,214.1 L75.1,213.5 L76.1,212.9 L77.1,212.3 L78.1,211.6 L79.1,210.9 L80.1,210.2 L81.1,209.4 L82.1,208.6 L83.1,207.8 L84.1,206.9 L85.1,206.1 L86.1,205.2 L87.1,204.3 L88.1,203.3 L89.1,202.4 L90.1,201.4 L91.1,200.4 L92.2,199.5 L93.2,198.5 L94.2,197.6 L95.2,196.7 L96.2,195.8 L97.2,194.9 L98.2,194.2 L99.2,193.5 L100.2,192.9 L101.2,192.4 L102.2,192 L103.2,191.7 L104.2,191.5 L105.2,191.5 L106.2,191.6 L107.2,192.3 L108.2,193.5 L109.2,195.3 L110.2,197.5 L111.2,200 L112.2,202.5 L113.2,205.2 L114.2,207.7 L115.2,210.2 L116.2,212.5 L117.2,214.6 L118.2,216.6 L119.2,218.4 L120.2,220 L121.2,221.4 L122.2,222.7 L123.2,223.9 L124.2,224.9 L125.2,225.9 L126.2,226.7 L127.2,227.4 L128.2,228.1 L129.2,228.7 L130.2,229.2 L131.2,229.7 L132.2,230.1 L133.2,230.5 L134.2,230.9 L135.2,231.2 L136.2,231.5 L137.2,231.7 L138.2,232 L139.2,232.2 L140.2,232.4 L141.2,232.6 L142.2,232.8 L143.3,232.9 L144.3,233.1 L145.3,233.2 L146.3,233.3 L147.3,233.5 L148.3,233.6 L149.3,233.7 L150.3,233.8 L151.3,233.9 L152.3,234 L153.3,234 L154.3,234.1 L155.3,234.2 L156.3,234.3 L157.3,234.3 L158.3,234.4 L159.3,234.4 L160.3,234.5 L161.3,234.5 L162.3,234.6 L163.3,234.6 L164.3,234.7 L165.3,234.7 L166.3,234.8 L167.3,234.8 L168.3,234.8" fill="none" stroke="#6a6a6a" stroke-width="0.8"/>
<path d="M197.5,55.7 L198.5,55.7 L199.5,55.7 L200.5,55.7 L201.5,55.7 L202.5,55.7 L203.5,55.7 L204.5,55.7 L205.5,55.7 L206.5,55.7 L207.5,55.7 L208.5,55.7 L209.5,55.7 L210.5,55.7 L211.5,55.7 L212.5,55.7 L213.5,55.7 L214.5,55.7 L215.5,55.7 L216.5,55.7 L217.5,55.8 L218.5,55.8 L219.5,55.8 L220.5,55.8 L221.5,55.8 L222.5,55.8 L223.6,55.8 L224.6,55.8 L225.6,55.8 L226.6,55.8 L227.6,55.8 L228.6,55.8 L229.6,55.8 L230.6,55.8 L231.6,55.8 L232.6,55.8 L233.6,55.8 L234.6,55.8 L235.6,55.8 L236.6,55.8 L237.6,55.8 L238.6,55.9 L239.6,55.9 L240.6,55.9 L241.6,55.9 L242.6,55.9 L243.6,55.9 L244.6,55.9 L245.6,55.9 L246.6,55.9 L247.6,55.9 L248.6,55.9 L249.6,55.9 L250.6,55.9 L251.6,55.9 L252.6,55.9 L253.6,56 L254.6,56 L255.6,56 L256.6,56 L257.6,56 L258.6,56 L259.6,56 L260.6,56 L261.6,56 L262.6,56 L263.6,56 L264.6,56 L265.6,56 L266.6,56.1 L267.6,56.1 L268.6,56.1 L269.6,56.1 L270.6,56.1 L271.6,56.1 L272.6,56.1 L273.6,56.1 L274.7,56.1 L275.7,56.1 L276.7,56.1 L277.7,56.1 L278.7,56.1 L279.7,56.1 L280.7,56.1 L281.7,56.1 L282.7,56.1 L283.7,56.1 L284.7,56.1 L285.7,56.1 L286.7,56 L287.7,56 L288.7,56 L289.7,55.9 L290.7,55.9 L291.7,55.8 L292.7,55.7 L293.7,55.6 L294.7,55.4 L295.7,55.1 L296.7,54.8 L297.7,54.4 L298.7,53.8 L299.7,53.1 L300.7,52.2 L301.7,51.1 L302.7,49.8 L303.7,48.1 L304.7,46.3 L305.7,44.1 L306.7,41.7 L307.7,39 L308.7,36.2 L309.7,33.2 L310.7,30.2 L311.7,27.3 L312.7,24.5 L313.7,22.1 L314.7,20.2 L315.7,18.8 L316.7,18.1 L317.7,18.2 L318.7,18.9 L319.7,20.2 L320.7,22 L321.7,24.3 L322.7,26.8 L323.7,29.6 L324.7,32.5 L325.8,35.4 L326.8,38.1 L327.8,40.8 L328.8,43.2 L329.8,45.5 L330.8,47.4 L331.8,49.2 L332.8,50.6 L333.8,51.9 L334.8,52.9 L335.8,53.8 L336.8,54.5 L337.8,55 L338.8,55.5 L339.8,55.8 L340.8,56.1 L341.8,56.3 L342.8,56.5 L343.8,56.6 L344.8,56.7 L345.8,56.8 L346.8,56.9 L347.8,57 L348.8,57 L349.8,57.1 L350.8,57.1 L350.8,57.7 L349.8,57.7 L348.8,57.7 L347.8,57.7 L346.8,57.6 L345.8,57.6 L344.8,57.6 L343.8,57.6 L342.8,57.6 L341.8,57.6 L340.8,57.6 L339.8,57.6 L338.8,57.6 L337.8,57.6 L336.8,57.5 L335.8,57.5 L334.8,57.5 L333.8,57.5 L332.8,57.5 L331.8,57.5 L330.8,57.5 L329.8,57.5 L328.8,57.4 L327.8,57.4 L326.8,57.4 L325.8,57.4 L324.7,57.4 L323.7,57.4 L322.7,57.3 L321.7,57.3 L320.7,57.3 L319.7,57.3 L318.7,57.3 L317.7,57.3 L316.7,57.2 L315.7,57.2 L314.7,57.2 L313.7,57.2 L312.7,57.2 L311.7,57.2 L310.7,57.1 L309.7,57.1 L308.7,57.1 L307.7,57.1 L306.7,57.1 L305.7,57 L304.7,57 L303.7,57 L302.7,57 L301.7,57 L300.7,56.9 L299.7,56.9 L298.7,56.9 L297.7,56.9 L296.7,56.9 L295.7,56.8 L294.7,56.8 L293.7,56.8 L292.7,56.8 L291.7,56.8 L290.7,56.7 L289.7,56.7 L288.7,56.7 L287.7,56.7 L286.7,56.7 L285.7,56.6 L284.7,56.6 L283.7,56.6 L282.7,56.6 L281.7,56.6 L280.7,56.5 L279.7,56.5 L278.7,56.5 L277.7,56.5 L276.7,56.5 L275.7,56.4 L274.7,56.4 L273.6,56.4 L272.6,56.4 L271.6,56.4 L270.6,56.4 L269.6,56.3 L268.6,56.3 L267.6,56.3 L266.6,56.3 L265.6,56.3 L264.6,56.3 L263.6,56.2 L262.6,56.2 L261.6,56.2 L260.6,56.2 L259.6,56.2 L258.6,56.2 L257.6,56.2 L256.6,56.1 L255.6,56.1 L254.6,56.1 L253.6,56.1 L252.6,56.1 L251.6,56.1 L250.6,56.1 L249.6,56.1 L248.6,56 L247.6,56 L246.6,56 L245.6,56 L244.6,56 L243.6,56 L242.6,56 L241.6,56 L240.6,56 L239.6,56 L238.6,56 L237.6,55.9 L236.6,55.9 L235.6,55.9 L234.6,55.9 L233.6,55.9 L232.6,55.9 L231.6,55.9 L230.6,55.9 L229.6,55.9 L228.6,55.9 L227.6,55.9 L226.6,55.9 L225.6,55.9 L224.6,55.9 L223.6,55.8 L222.5,55.8 L221.5,55.8 L220.5,55.8 L219.5,55.8 L218.5,55.8 L217.5,55.8 L216.5,55.8 L215.5,55.8 L214.5,55.8 L213.5,55.8 L212.5,55.8 L211.5,55.8 L210.5,55.8 L209.5,55.8 L208.5,55.8 L207.5,55.8 L206.5,55.8 L205.5,55.8 L204.5,55.8 L203.5,55.8 L202.5,55.8 L201.5,55.8 L200.5,55.8 L199.5,55.8 L198.5,55.8 L197.5,55.7Z" fill="url(#rg)"/>
<path d="M197.5,55.7 L198.5,55.7 L199.5,55.7 L200.5,55.7 L201.5,55.7 L202.5,55.7 L203.5,55.7 L204.5,55.7 L205.5,55.7 L206.5,55.7 L207.5,55.7 L208.5,55.7 L209.5,55.7 L210.5,55.7 L211.5,55.6 L212.5,55.6 L213.5,55.6 L214.5,55.5 L215.5,55.5 L216.5,55.5 L217.5,55.4 L218.5,55.3 L219.5,55.3 L220.5,55.2 L221.5,55.1 L222.5,55 L223.6,54.8 L224.6,54.7 L225.6,54.5 L226.6,54.3 L227.6,54.1 L228.6,53.9 L229.6,53.7 L230.6,53.4 L231.6,53.1 L232.6,52.8 L233.6,52.4 L234.6,52 L235.6,51.6 L236.6,51.1 L237.6,50.6 L238.6,50 L239.6,49.5 L240.6,48.8 L241.6,48.2 L242.6,47.5 L243.6,46.7 L244.6,46 L245.6,45.1 L246.6,44.3 L247.6,43.4 L248.6,42.5 L249.6,41.6 L250.6,40.6 L251.6,39.7 L252.6,38.7 L253.6,37.7 L254.6,36.7 L255.6,35.7 L256.6,34.7 L257.6,33.7 L258.6,32.8 L259.6,31.8 L260.6,30.9 L261.6,30.1 L262.6,29.3 L263.6,28.5 L264.6,27.8 L265.6,27.2 L266.6,26.6 L267.6,26.1 L268.6,25.7 L269.6,25.4 L270.6,25.1 L271.6,24.9 L272.6,24.9 L273.6,24.9 L274.7,25 L275.7,25.2 L276.7,25.5 L277.7,25.9 L278.7,26.3 L279.7,26.9 L280.7,27.6 L281.7,28.3 L282.7,29.1 L283.7,29.9 L284.7,30.8 L285.7,31.8 L286.7,32.8 L287.7,33.8 L288.7,34.9 L289.7,36 L290.7,37.1 L291.7,38.2 L292.7,39.2 L293.7,40.3 L294.7,41.4 L295.7,42.4 L296.7,43.4 L297.7,44.4 L298.7,45.4 L299.7,46.3 L300.7,47.2 L301.7,48 L302.7,48.8 L303.7,49.6 L304.7,50.3 L305.7,50.9 L306.7,51.5 L307.7,52.1 L308.7,52.6 L309.7,53.1 L310.7,53.6 L311.7,54 L312.7,54.4 L313.7,54.7 L314.7,55 L315.7,55.3 L316.7,55.6 L317.7,55.8 L318.7,56 L319.7,56.2 L320.7,56.4 L321.7,56.5 L322.7,56.7 L323.7,56.8 L324.7,56.9 L325.8,57 L326.8,57 L327.8,57.1 L328.8,57.2 L329.8,57.2 L330.8,57.3 L331.8,57.3 L332.8,57.4 L333.8,57.4 L334.8,57.4 L335.8,57.5 L336.8,57.5 L337.8,57.5 L338.8,57.5 L339.8,57.5 L340.8,57.6 L341.8,57.6 L342.8,57.6 L343.8,57.6 L344.8,57.6 L345.8,57.6 L346.8,57.6 L347.8,57.7 L348.8,57.7 L349.8,57.7 L350.8,57.7 L350.8,57.7 L349.8,57.7 L348.8,57.7 L347.8,57.7 L346.8,57.6 L345.8,57.6 L344.8,57.6 L343.8,57.6 L342.8,57.6 L341.8,57.6 L340.8,57.6 L339.8,57.6 L338.8,57.6 L337.8,57.6 L336.8,57.5 L335.8,57.5 L334.8,57.5 L333.8,57.5 L332.8,57.5 L331.8,57.5 L330.8,57.5 L329.8,57.5 L328.8,57.4 L327.8,57.4 L326.8,57.4 L325.8,57.4 L324.7,57.4 L323.7,57.4 L322.7,57.3 L321.7,57.3 L320.7,57.3 L319.7,57.3 L318.7,57.3 L317.7,57.3 L316.7,57.2 L315.7,57.2 L314.7,57.2 L313.7,57.2 L312.7,57.2 L311.7,57.2 L310.7,57.1 L309.7,57.1 L308.7,57.1 L307.7,57.1 L306.7,57.1 L305.7,57 L304.7,57 L303.7,57 L302.7,57 L301.7,57 L300.7,56.9 L299.7,56.9 L298.7,56.9 L297.7,56.9 L296.7,56.9 L295.7,56.8 L294.7,56.8 L293.7,56.8 L292.7,56.8 L291.7,56.8 L290.7,56.7 L289.7,56.7 L288.7,56.7 L287.7,56.7 L286.7,56.7 L285.7,56.6 L284.7,56.6 L283.7,56.6 L282.7,56.6 L281.7,56.6 L280.7,56.5 L279.7,56.5 L278.7,56.5 L277.7,56.5 L276.7,56.5 L275.7,56.4 L274.7,56.4 L273.6,56.4 L272.6,56.4 L271.6,56.4 L270.6,56.4 L269.6,56.3 L268.6,56.3 L267.6,56.3 L266.6,56.3 L265.6,56.3 L264.6,56.3 L263.6,56.2 L262.6,56.2 L261.6,56.2 L260.6,56.2 L259.6,56.2 L258.6,56.2 L257.6,56.2 L256.6,56.1 L255.6,56.1 L254.6,56.1 L253.6,56.1 L252.6,56.1 L251.6,56.1 L250.6,56.1 L249.6,56.1 L248.6,56 L247.6,56 L246.6,56 L245.6,56 L244.6,56 L243.6,56 L242.6,56 L241.6,56 L240.6,56 L239.6,56 L238.6,56 L237.6,55.9 L236.6,55.9 L235.6,55.9 L234.6,55.9 L233.6,55.9 L232.6,55.9 L231.6,55.9 L230.6,55.9 L229.6,55.9 L228.6,55.9 L227.6,55.9 L226.6,55.9 L225.6,55.9 L224.6,55.9 L223.6,55.8 L222.5,55.8 L221.5,55.8 L220.5,55.8 L219.5,55.8 L218.5,55.8 L217.5,55.8 L216.5,55.8 L215.5,55.8 L214.5,55.8 L213.5,55.8 L212.5,55.8 L211.5,55.8 L210.5,55.8 L209.5,55.8 L208.5,55.8 L207.5,55.8 L206.5,55.8 L205.5,55.8 L204.5,55.8 L203.5,55.8 L202.5,55.8 L201.5,55.8 L200.5,55.8 L199.5,55.8 L198.5,55.8 L197.5,55.7Z" fill="url(#gg)"/>
<path d="M197.5,55.7 L198.5,55.7 L199.5,55.7 L200.5,55.7 L201.5,55.7 L202.5,55.7 L203.5,55.7 L204.5,55.7 L205.5,55.7 L206.5,55.7 L207.5,55.7 L208.5,55.7 L209.5,55.7 L210.5,55.7 L211.5,55.6 L212.5,55.6 L213.5,55.6 L214.5,55.5 L215.5,55.5 L216.5,55.5 L217.5,55.4 L218.5,55.3 L219.5,55.3 L220.5,55.2 L221.5,55.1 L222.5,55 L223.6,54.8 L224.6,54.7 L225.6,54.5 L226.6,54.3 L227.6,54.1 L228.6,53.9 L229.6,53.7 L230.6,53.4 L231.6,53.1 L232.6,52.8 L233.6,52.4 L234.6,52 L235.6,51.6 L236.6,51.1 L237.6,50.6 L238.6,50 L239.6,49.5 L240.6,48.8 L241.6,48.2 L242.6,47.5 L243.6,46.7 L244.6,46 L245.6,45.1 L246.6,44.3 L247.6,43.4 L248.6,42.5 L249.6,41.6 L250.6,40.6 L251.6,39.7 L252.6,38.7 L253.6,37.7 L254.6,36.7 L255.6,35.7 L256.6,34.7 L257.6,33.7 L258.6,32.8 L259.6,31.8 L260.6,30.9 L261.6,30.1 L262.6,29.3 L263.6,28.5 L264.6,27.8 L265.6,27.2 L266.6,26.6 L267.6,26.1 L268.6,25.7 L269.6,25.4 L270.6,25.1 L271.6,24.9 L272.6,24.9 L273.6,24.9 L274.7,25 L275.7,25.2 L276.7,25.5 L277.7,25.9 L278.7,26.3 L279.7,26.9 L280.7,27.6 L281.7,28.3 L282.7,29.1 L283.7,29.9 L284.7,30.8 L285.7,31.8 L286.7,32.7 L287.7,33.7 L288.7,34.7 L289.7,35.7 L290.7,36.6 L291.7,37.5 L292.7,38.2 L293.7,38.9 L294.7,39.5 L295.7,39.9 L296.7,40.2 L297.7,40.3 L298.7,40.4 L299.7,40.3 L300.7,40 L301.7,39.6 L302.7,39.1 L303.7,38.4 L304.7,37.5 L305.7,36.2 L306.7,34.7 L307.7,32.7 L308.7,30.5 L309.7,27.9 L310.7,25.2 L311.7,22.5 L312.7,19.8 L313.7,17.5 L314.7,15.6 L315.7,14.4 L316.7,13.9 L317.7,14.1 L318.7,15.1 L319.7,16.8 L320.7,19 L321.7,21.7 L322.7,24.7 L323.7,27.9 L324.7,31.2 L325.8,34.4 L326.8,37.6 L327.8,40.5 L328.8,43.3 L329.8,45.7 L330.8,47.9 L331.8,49.8 L332.8,51.4 L333.8,52.8 L334.8,53.9 L335.8,54.8 L336.8,55.5 L337.8,56.1 L338.8,56.5 L339.8,56.8 L340.8,57 L341.8,57.2 L342.8,57.4 L343.8,57.4 L344.8,57.5 L345.8,57.6 L346.8,57.6 L347.8,57.6 L348.8,57.6 L349.8,57.7 L350.8,57.7" fill="none" stroke="#555" stroke-width="0.7"/>
<path d="M197.5,112.7 L198.5,112.7 L199.5,112.7 L200.5,112.7 L201.5,112.7 L202.5,112.7 L203.5,112.7 L204.5,112.7 L205.5,112.7 L206.5,112.7 L207.5,112.7 L208.5,112.7 L209.5,112.7 L210.5,112.8 L211.5,112.8 L212.5,112.8 L213.5,112.8 L214.5,112.8 L215.5,112.8 L216.5,112.8 L217.5,112.8 L218.5,112.8 L219.5,112.8 L220.5,112.8 L221.5,112.8 L222.5,112.8 L223.6,112.8 L224.6,112.8 L225.6,112.8 L226.6,112.8 L227.6,112.8 L228.6,112.8 L229.6,112.8 L230.6,112.8 L231.6,112.8 L232.6,112.8 L233.6,112.9 L234.6,112.9 L235.6,112.9 L236.6,112.9 L237.6,112.9 L238.6,112.9 L239.6,112.9 L240.6,112.9 L241.6,112.9 L242.6,112.9 L243.6,112.9 L244.6,112.9 L245.6,112.9 L246.6,112.9 L247.6,112.9 L248.6,113 L249.6,113 L250.6,113 L251.6,113 L252.6,113 L253.6,113 L254.6,113 L255.6,113 L256.6,113 L257.6,113 L258.6,113 L259.6,113 L260.6,113 L261.6,113.1 L262.6,113.1 L263.6,113.1 L264.6,113.1 L265.6,113.1 L266.6,113.1 L267.6,113.1 L268.6,113.1 L269.6,113.1 L270.6,113.1 L271.6,113.1 L272.6,113.1 L273.6,113.1 L274.7,113.1 L275.7,113.2 L276.7,113.2 L277.7,113.2 L278.7,113.2 L279.7,113.2 L280.7,113.2 L281.7,113.2 L282.7,113.1 L283.7,113.1 L284.7,113.1 L285.7,113.1 L286.7,113.1 L287.7,113.1 L288.7,113 L289.7,113 L290.7,112.9 L291.7,112.8 L292.7,112.6 L293.7,112.5 L294.7,112.2 L295.7,111.9 L296.7,111.5 L297.7,111 L298.7,110.3 L299.7,109.5 L300.7,108.5 L301.7,107.3 L302.7,105.9 L303.7,104.2 L304.7,102.2 L305.7,100.1 L306.7,97.7 L307.7,95.1 L308.7,92.3 L309.7,89.5 L310.7,86.7 L311.7,84 L312.7,81.5 L313.7,79.3 L314.7,77.5 L315.7,76.3 L316.7,75.7 L317.7,75.8 L318.7,76.5 L319.7,77.8 L320.7,79.5 L321.7,81.7 L322.7,84.3 L323.7,87 L324.7,89.8 L325.8,92.6 L326.8,95.4 L327.8,98 L328.8,100.5 L329.8,102.7 L330.8,104.8 L331.8,106.6 L332.8,108.2 L333.8,109.5 L334.8,110.7 L335.8,111.7 L336.8,112.5 L337.8,113.1 L338.8,113.7 L339.8,114.1 L340.8,114.5 L341.8,114.8 L342.8,115 L343.8,115.2 L344.8,115.4 L345.8,115.5 L346.8,115.7 L347.8,115.8 L348.8,115.9 L349.8,116 L350.8,116.1 L350.8,116.8 L349.8,116.7 L348.8,116.7 L347.8,116.6 L346.8,116.6 L345.8,116.5 L344.8,116.5 L343.8,116.4 L342.8,116.3 L341.8,116.3 L340.8,116.2 L339.8,116.2 L338.8,116.1 L337.8,116.1 L336.8,116 L335.8,116 L334.8,115.9 L333.8,115.9 L332.8,115.8 L331.8,115.8 L330.8,115.7 L329.8,115.6 L328.8,115.6 L327.8,115.5 L326.8,115.5 L325.8,115.4 L324.7,115.4 L323.7,115.3 L322.7,115.3 L321.7,115.2 L320.7,115.2 L319.7,115.1 L318.7,115.1 L317.7,115 L316.7,115 L315.7,115 L314.7,114.9 L313.7,114.9 L312.7,114.8 L311.7,114.8 L310.7,114.7 L309.7,114.7 L308.7,114.6 L307.7,114.6 L306.7,114.6 L305.7,114.5 L304.7,114.5 L303.7,114.4 L302.7,114.4 L301.7,114.4 L300.7,114.3 L299.7,114.3 L298.7,114.3 L297.7,114.2 L296.7,114.2 L295.7,114.1 L294.7,114.1 L293.7,114.1 L292.7,114 L291.7,114 L290.7,114 L289.7,114 L288.7,113.9 L287.7,113.9 L286.7,113.9 L285.7,113.8 L284.7,113.8 L283.7,113.8 L282.7,113.7 L281.7,113.7 L280.7,113.7 L279.7,113.7 L278.7,113.6 L277.7,113.6 L276.7,113.6 L275.7,113.6 L274.7,113.6 L273.6,113.5 L272.6,113.5 L271.6,113.5 L270.6,113.5 L269.6,113.4 L268.6,113.4 L267.6,113.4 L266.6,113.4 L265.6,113.4 L264.6,113.3 L263.6,113.3 L262.6,113.3 L261.6,113.3 L260.6,113.3 L259.6,113.3 L258.6,113.2 L257.6,113.2 L256.6,113.2 L255.6,113.2 L254.6,113.2 L253.6,113.2 L252.6,113.2 L251.6,113.1 L250.6,113.1 L249.6,113.1 L248.6,113.1 L247.6,113.1 L246.6,113.1 L245.6,113.1 L244.6,113.1 L243.6,113.1 L242.6,113 L241.6,113 L240.6,113 L239.6,113 L238.6,113 L237.6,113 L236.6,113 L235.6,113 L234.6,113 L233.6,113 L232.6,113 L231.6,112.9 L230.6,112.9 L229.6,112.9 L228.6,112.9 L227.6,112.9 L226.6,112.9 L225.6,112.9 L224.6,112.9 L223.6,112.9 L222.5,112.9 L221.5,112.9 L220.5,112.9 L219.5,112.9 L218.5,112.9 L217.5,112.9 L216.5,112.8 L215.5,112.8 L214.5,112.8 L213.5,112.8 L212.5,112.8 L211.5,112.8 L210.5,112.8 L209.5,112.8 L208.5,112.8 L207.5,112.8 L206.5,112.8 L205.5,112.8 L204.5,112.8 L203.5,112.8 L202.5,112.8 L201.5,112.8 L200.5,112.8 L199.5,112.8 L198.5,112.8 L197.5,112.8Z" fill="url(#rg)"/>
<path d="M197.5,112.8 L198.5,112.8 L199.5,112.8 L200.5,112.8 L201.5,112.8 L202.5,112.8 L203.5,112.8 L204.5,112.8 L205.5,112.8 L206.5,112.8 L207.5,112.8 L208.5,112.8 L209.5,112.8 L210.5,112.8 L211.5,112.8 L212.5,112.8 L213.5,112.8 L214.5,112.8 L215.5,112.8 L216.5,112.8 L217.5,112.8 L218.5,112.7 L219.5,112.7 L220.5,112.7 L221.5,112.7 L222.5,112.6 L223.6,112.6 L224.6,112.6 L225.6,112.5 L226.6,112.5 L227.6,112.4 L228.6,112.3 L229.6,112.2 L230.6,112.1 L231.6,112 L232.6,111.9 L233.6,111.7 L234.6,111.6 L235.6,111.4 L236.6,111.2 L237.6,111 L238.6,110.7 L239.6,110.5 L240.6,110.2 L241.6,109.9 L242.6,109.5 L243.6,109.2 L244.6,108.8 L245.6,108.3 L246.6,107.9 L247.6,107.4 L248.6,106.9 L249.6,106.4 L250.6,105.9 L251.6,105.3 L252.6,104.7 L253.6,104.1 L254.6,103.5 L255.6,102.8 L256.6,102.2 L257.6,101.6 L258.6,100.9 L259.6,100.3 L260.6,99.7 L261.6,99 L262.6,98.4 L263.6,97.9 L264.6,97.3 L265.6,96.8 L266.6,96.3 L267.6,95.9 L268.6,95.5 L269.6,95.2 L270.6,94.9 L271.6,94.6 L272.6,94.5 L273.6,94.3 L274.7,94.3 L275.7,94.3 L276.7,94.3 L277.7,94.4 L278.7,94.6 L279.7,94.7 L280.7,95 L281.7,95.2 L282.7,95.5 L283.7,95.9 L284.7,96.2 L285.7,96.6 L286.7,97.1 L287.7,97.5 L288.7,98 L289.7,98.5 L290.7,99 L291.7,99.6 L292.7,100.1 L293.7,100.7 L294.7,101.3 L295.7,101.9 L296.7,102.5 L297.7,103 L298.7,103.6 L299.7,104.2 L300.7,104.8 L301.7,105.4 L302.7,105.9 L303.7,106.5 L304.7,107 L305.7,107.5 L306.7,108 L307.7,108.5 L308.7,109 L309.7,109.4 L310.7,109.9 L311.7,110.3 L312.7,110.7 L313.7,111 L314.7,111.4 L315.7,111.7 L316.7,112.1 L317.7,112.4 L318.7,112.7 L319.7,112.9 L320.7,113.2 L321.7,113.4 L322.7,113.7 L323.7,113.9 L324.7,114.1 L325.8,114.3 L326.8,114.4 L327.8,114.6 L328.8,114.8 L329.8,114.9 L330.8,115 L331.8,115.2 L332.8,115.3 L333.8,115.4 L334.8,115.5 L335.8,115.6 L336.8,115.7 L337.8,115.8 L338.8,115.9 L339.8,116 L340.8,116.1 L341.8,116.1 L342.8,116.2 L343.8,116.3 L344.8,116.4 L345.8,116.4 L346.8,116.5 L347.8,116.6 L348.8,116.6 L349.8,116.7 L350.8,116.7 L350.8,116.8 L349.8,116.7 L348.8,116.7 L347.8,116.6 L346.8,116.6 L345.8,116.5 L344.8,116.5 L343.8,116.4 L342.8,116.3 L341.8,116.3 L340.8,116.2 L339.8,116.2 L338.8,116.1 L337.8,116.1 L336.8,116 L335.8,116 L334.8,115.9 L333.8,115.9 L332.8,115.8 L331.8,115.8 L330.8,115.7 L329.8,115.6 L328.8,115.6 L327.8,115.5 L326.8,115.5 L325.8,115.4 L324.7,115.4 L323.7,115.3 L322.7,115.3 L321.7,115.2 L320.7,115.2 L319.7,115.1 L318.7,115.1 L317.7,115 L316.7,115 L315.7,115 L314.7,114.9 L313.7,114.9 L312.7,114.8 L311.7,114.8 L310.7,114.7 L309.7,114.7 L308.7,114.6 L307.7,114.6 L306.7,114.6 L305.7,114.5 L304.7,114.5 L303.7,114.4 L302.7,114.4 L301.7,114.4 L300.7,114.3 L299.7,114.3 L298.7,114.3 L297.7,114.2 L296.7,114.2 L295.7,114.1 L294.7,114.1 L293.7,114.1 L292.7,114 L291.7,114 L290.7,114 L289.7,114 L288.7,113.9 L287.7,113.9 L286.7,113.9 L285.7,113.8 L284.7,113.8 L283.7,113.8 L282.7,113.7 L281.7,113.7 L280.7,113.7 L279.7,113.7 L278.7,113.6 L277.7,113.6 L276.7,113.6 L275.7,113.6 L274.7,113.6 L273.6,113.5 L272.6,113.5 L271.6,113.5 L270.6,113.5 L269.6,113.4 L268.6,113.4 L267.6,113.4 L266.6,113.4 L265.6,113.4 L264.6,113.3 L263.6,113.3 L262.6,113.3 L261.6,113.3 L260.6,113.3 L259.6,113.3 L258.6,113.2 L257.6,113.2 L256.6,113.2 L255.6,113.2 L254.6,113.2 L253.6,113.2 L252.6,113.2 L251.6,113.1 L250.6,113.1 L249.6,113.1 L248.6,113.1 L247.6,113.1 L246.6,113.1 L245.6,113.1 L244.6,113.1 L243.6,113.1 L242.6,113 L241.6,113 L240.6,113 L239.6,113 L238.6,113 L237.6,113 L236.6,113 L235.6,113 L234.6,113 L233.6,113 L232.6,113 L231.6,112.9 L230.6,112.9 L229.6,112.9 L228.6,112.9 L227.6,112.9 L226.6,112.9 L225.6,112.9 L224.6,112.9 L223.6,112.9 L222.5,112.9 L221.5,112.9 L220.5,112.9 L219.5,112.9 L218.5,112.9 L217.5,112.9 L216.5,112.8 L215.5,112.8 L214.5,112.8 L213.5,112.8 L212.5,112.8 L211.5,112.8 L210.5,112.8 L209.5,112.8 L208.5,112.8 L207.5,112.8 L206.5,112.8 L205.5,112.8 L204.5,112.8 L203.5,112.8 L202.5,112.8 L201.5,112.8 L200.5,112.8 L199.5,112.8 L198.5,112.8 L197.5,112.8Z" fill="url(#gg)"/>
<path d="M197.5,112.8 L198.5,112.8 L199.5,112.8 L200.5,112.8 L201.5,112.8 L202.5,112.8 L203.5,112.8 L204.5,112.8 L205.5,112.8 L206.5,112.8 L207.5,112.8 L208.5,112.8 L209.5,112.8 L210.5,112.8 L211.5,112.8 L212.5,112.8 L213.5,112.8 L214.5,112.8 L215.5,112.8 L216.5,112.8 L217.5,112.8 L218.5,112.7 L219.5,112.7 L220.5,112.7 L221.5,112.7 L222.5,112.6 L223.6,112.6 L224.6,112.6 L225.6,112.5 L226.6,112.5 L227.6,112.4 L228.6,112.3 L229.6,112.2 L230.6,112.1 L231.6,112 L232.6,111.9 L233.6,111.7 L234.6,111.6 L235.6,111.4 L236.6,111.2 L237.6,111 L238.6,110.7 L239.6,110.5 L240.6,110.2 L241.6,109.9 L242.6,109.5 L243.6,109.2 L244.6,108.8 L245.6,108.3 L246.6,107.9 L247.6,107.4 L248.6,106.9 L249.6,106.4 L250.6,105.9 L251.6,105.3 L252.6,104.7 L253.6,104.1 L254.6,103.5 L255.6,102.8 L256.6,102.2 L257.6,101.6 L258.6,100.9 L259.6,100.3 L260.6,99.7 L261.6,99 L262.6,98.4 L263.6,97.9 L264.6,97.3 L265.6,96.8 L266.6,96.3 L267.6,95.9 L268.6,95.5 L269.6,95.2 L270.6,94.9 L271.6,94.6 L272.6,94.5 L273.6,94.3 L274.7,94.3 L275.7,94.3 L276.7,94.3 L277.7,94.4 L278.7,94.6 L279.7,94.7 L280.7,95 L281.7,95.2 L282.7,95.5 L283.7,95.8 L284.7,96.2 L285.7,96.6 L286.7,97 L287.7,97.5 L288.7,97.9 L289.7,98.3 L290.7,98.8 L291.7,99.2 L292.7,99.6 L293.7,99.9 L294.7,100.2 L295.7,100.4 L296.7,100.5 L297.7,100.4 L298.7,100.2 L299.7,99.8 L300.7,99.3 L301.7,98.5 L302.7,97.5 L303.7,96.2 L304.7,94.7 L305.7,92.9 L306.7,90.8 L307.7,88.4 L308.7,85.9 L309.7,83.2 L310.7,80.4 L311.7,77.7 L312.7,75.2 L313.7,73 L314.7,71.3 L315.7,70.1 L316.7,69.7 L317.7,70 L318.7,71.1 L319.7,72.8 L320.7,75.1 L321.7,77.9 L322.7,80.9 L323.7,84.2 L324.7,87.5 L325.8,90.8 L326.8,94 L327.8,97.1 L328.8,99.9 L329.8,102.5 L330.8,104.8 L331.8,106.9 L332.8,108.6 L333.8,110.2 L334.8,111.4 L335.8,112.5 L336.8,113.3 L337.8,114 L338.8,114.6 L339.8,115 L340.8,115.4 L341.8,115.7 L342.8,115.9 L343.8,116.1 L344.8,116.2 L345.8,116.3 L346.8,116.4 L347.8,116.5 L348.8,116.6 L349.8,116.7 L350.8,116.7" fill="none" stroke="#555" stroke-width="0.7"/>
<path d="M197.5,176.9 L198.5,176.9 L199.5,176.9 L200.5,176.9 L201.5,176.9 L202.5,176.9 L203.5,176.9 L204.5,176.9 L205.5,176.9 L206.5,176.9 L207.5,176.9 L208.5,176.9 L209.5,176.9 L210.5,177 L211.5,177 L212.5,177 L213.5,177 L214.5,177 L215.5,177 L216.5,177 L217.5,177 L218.5,177 L219.5,177 L220.5,177 L221.5,177 L222.5,177 L223.6,177 L224.6,177 L225.6,177 L226.6,177 L227.6,177.1 L228.6,177.1 L229.6,177.1 L230.6,177.1 L231.6,177.1 L232.6,177.1 L233.6,177.1 L234.6,177.1 L235.6,177.1 L236.6,177.1 L237.6,177.1 L238.6,177.1 L239.6,177.1 L240.6,177.1 L241.6,177.2 L242.6,177.2 L243.6,177.2 L244.6,177.2 L245.6,177.2 L246.6,177.2 L247.6,177.2 L248.6,177.2 L249.6,177.2 L250.6,177.2 L251.6,177.2 L252.6,177.2 L253.6,177.3 L254.6,177.3 L255.6,177.3 L256.6,177.3 L257.6,177.3 L258.6,177.3 L259.6,177.3 L260.6,177.3 L261.6,177.3 L262.6,177.3 L263.6,177.3 L264.6,177.3 L265.6,177.3 L266.6,177.3 L267.6,177.3 L268.6,177.3 L269.6,177.3 L270.6,177.3 L271.6,177.3 L272.6,177.3 L273.6,177.3 L274.7,177.3 L275.7,177.3 L276.7,177.3 L277.7,177.3 L278.7,177.3 L279.7,177.3 L280.7,177.2 L281.7,177.2 L282.7,177.2 L283.7,177.2 L284.7,177.1 L285.7,177.1 L286.7,177 L287.7,177 L288.7,176.9 L289.7,176.8 L290.7,176.7 L291.7,176.6 L292.7,176.5 L293.7,176.3 L294.7,176.2 L295.7,176 L296.7,175.7 L297.7,175.4 L298.7,174.9 L299.7,174.4 L300.7,173.8 L301.7,173 L302.7,172 L303.7,170.8 L304.7,169.4 L305.7,167.7 L306.7,165.6 L307.7,163.3 L308.7,160.7 L309.7,157.9 L310.7,154.8 L311.7,151.6 L312.7,148.4 L313.7,145.4 L314.7,142.7 L315.7,140.7 L316.7,139.6 L317.7,139.4 L318.7,140.2 L319.7,141.7 L320.7,143.7 L321.7,146.3 L322.7,149.1 L323.7,152 L324.7,155 L325.8,157.8 L326.8,160.5 L327.8,163 L328.8,165.3 L329.8,167.4 L330.8,169.2 L331.8,170.7 L332.8,172.1 L333.8,173.3 L334.8,174.2 L335.8,175.1 L336.8,175.8 L337.8,176.4 L338.8,176.9 L339.8,177.3 L340.8,177.7 L341.8,178 L342.8,178.3 L343.8,178.5 L344.8,178.7 L345.8,178.9 L346.8,179.1 L347.8,179.3 L348.8,179.4 L349.8,179.6 L350.8,179.7 L350.8,181.2 L349.8,181.2 L348.8,181.1 L347.8,181.1 L346.8,181 L345.8,181 L344.8,180.9 L343.8,180.9 L342.8,180.8 L341.8,180.8 L340.8,180.7 L339.8,180.7 L338.8,180.6 L337.8,180.6 L336.8,180.5 L335.8,180.5 L334.8,180.4 L333.8,180.4 L332.8,180.4 L331.8,180.3 L330.8,180.3 L329.8,180.2 L328.8,180.2 L327.8,180.1 L326.8,180.1 L325.8,180 L324.7,180 L323.7,179.9 L322.7,179.9 L321.7,179.8 L320.7,179.8 L319.7,179.7 L318.7,179.7 L317.7,179.7 L316.7,179.6 L315.7,179.6 L314.7,179.5 L313.7,179.5 L312.7,179.4 L311.7,179.4 L310.7,179.3 L309.7,179.3 L308.7,179.3 L307.7,179.2 L306.7,179.2 L305.7,179.1 L304.7,179.1 L303.7,179.1 L302.7,179 L301.7,179 L300.7,178.9 L299.7,178.9 L298.7,178.9 L297.7,178.8 L296.7,178.8 L295.7,178.8 L294.7,178.7 L293.7,178.7 L292.7,178.6 L291.7,178.6 L290.7,178.6 L289.7,178.5 L288.7,178.5 L287.7,178.5 L286.7,178.4 L285.7,178.4 L284.7,178.4 L283.7,178.3 L282.7,178.3 L281.7,178.3 L280.7,178.3 L279.7,178.2 L278.7,178.2 L277.7,178.2 L276.7,178.1 L275.7,178.1 L274.7,178.1 L273.6,178.1 L272.6,178 L271.6,178 L270.6,178 L269.6,177.9 L268.6,177.9 L267.6,177.9 L266.6,177.9 L265.6,177.9 L264.6,177.8 L263.6,177.8 L262.6,177.8 L261.6,177.8 L260.6,177.7 L259.6,177.7 L258.6,177.7 L257.6,177.7 L256.6,177.7 L255.6,177.6 L254.6,177.6 L253.6,177.6 L252.6,177.6 L251.6,177.6 L250.6,177.5 L249.6,177.5 L248.6,177.5 L247.6,177.5 L246.6,177.5 L245.6,177.5 L244.6,177.4 L243.6,177.4 L242.6,177.4 L241.6,177.4 L240.6,177.4 L239.6,177.4 L238.6,177.4 L237.6,177.3 L236.6,177.3 L235.6,177.3 L234.6,177.3 L233.6,177.3 L232.6,177.3 L231.6,177.3 L230.6,177.3 L229.6,177.3 L228.6,177.2 L227.6,177.2 L226.6,177.2 L225.6,177.2 L224.6,177.2 L223.6,177.2 L222.5,177.2 L221.5,177.2 L220.5,177.2 L219.5,177.1 L218.5,177.1 L217.5,177.1 L216.5,177.1 L215.5,177.1 L214.5,177.1 L213.5,177.1 L212.5,177.1 L211.5,177.1 L210.5,177.1 L209.5,177.1 L208.5,177.1 L207.5,177.1 L206.5,177 L205.5,177 L204.5,177 L203.5,177 L202.5,177 L201.5,177 L200.5,177 L199.5,177 L198.5,177 L197.5,177Z" fill="url(#rg)"/>
<path d="M197.5,176.8 L198.5,176.9 L199.5,176.9 L200.5,176.9 L201.5,176.9 L202.5,176.9 L203.5,176.9 L204.5,176.9 L205.5,176.9 L206.5,176.9 L207.5,176.9 L208.5,176.9 L209.5,176.9 L210.5,176.9 L211.5,176.9 L212.5,176.9 L213.5,176.9 L214.5,176.9 L215.5,176.9 L216.5,176.9 L217.5,176.9 L218.5,176.9 L219.5,176.9 L220.5,176.9 L221.5,176.9 L222.5,176.9 L223.6,176.9 L224.6,176.9 L225.6,176.9 L226.6,176.9 L227.6,176.9 L228.6,176.9 L229.6,176.8 L230.6,176.8 L231.6,176.8 L232.6,176.8 L233.6,176.8 L234.6,176.8 L235.6,176.7 L236.6,176.7 L237.6,176.7 L238.6,176.6 L239.6,176.6 L240.6,176.5 L241.6,176.5 L242.6,176.4 L243.6,176.3 L244.6,176.2 L245.6,176.1 L246.6,176 L247.6,175.9 L248.6,175.8 L249.6,175.7 L250.6,175.5 L251.6,175.4 L252.6,175.2 L253.6,175 L254.6,174.8 L255.6,174.6 L256.6,174.4 L257.6,174.2 L258.6,173.9 L259.6,173.7 L260.6,173.4 L261.6,173.1 L262.6,172.8 L263.6,172.5 L264.6,172.2 L265.6,171.9 L266.6,171.6 L267.6,171.2 L268.6,170.9 L269.6,170.5 L270.6,170.2 L271.6,169.8 L272.6,169.5 L273.6,169.1 L274.7,168.8 L275.7,168.5 L276.7,168.2 L277.7,167.9 L278.7,167.6 L279.7,167.3 L280.7,167.1 L281.7,166.9 L282.7,166.7 L283.7,166.5 L284.7,166.4 L285.7,166.3 L286.7,166.2 L287.7,166.2 L288.7,166.2 L289.7,166.2 L290.7,166.3 L291.7,166.4 L292.7,166.6 L293.7,166.8 L294.7,167.1 L295.7,167.3 L296.7,167.6 L297.7,168 L298.7,168.3 L299.7,168.7 L300.7,169.1 L301.7,169.5 L302.7,170 L303.7,170.4 L304.7,170.8 L305.7,171.3 L306.7,171.7 L307.7,172.2 L308.7,172.6 L309.7,173.1 L310.7,173.5 L311.7,173.9 L312.7,174.3 L313.7,174.7 L314.7,175.1 L315.7,175.4 L316.7,175.8 L317.7,176.1 L318.7,176.4 L319.7,176.7 L320.7,177 L321.7,177.3 L322.7,177.6 L323.7,177.8 L324.7,178 L325.8,178.2 L326.8,178.4 L327.8,178.6 L328.8,178.8 L329.8,179 L330.8,179.1 L331.8,179.3 L332.8,179.4 L333.8,179.5 L334.8,179.7 L335.8,179.8 L336.8,179.9 L337.8,180 L338.8,180.1 L339.8,180.2 L340.8,180.2 L341.8,180.3 L342.8,180.4 L343.8,180.5 L344.8,180.5 L345.8,180.6 L346.8,180.7 L347.8,180.7 L348.8,180.8 L349.8,180.9 L350.8,180.9 L350.8,181.2 L349.8,181.2 L348.8,181.1 L347.8,181.1 L346.8,181 L345.8,181 L344.8,180.9 L343.8,180.9 L342.8,180.8 L341.8,180.8 L340.8,180.7 L339.8,180.7 L338.8,180.6 L337.8,180.6 L336.8,180.5 L335.8,180.5 L334.8,180.4 L333.8,180.4 L332.8,180.4 L331.8,180.3 L330.8,180.3 L329.8,180.2 L328.8,180.2 L327.8,180.1 L326.8,180.1 L325.8,180 L324.7,180 L323.7,179.9 L322.7,179.9 L321.7,179.8 L320.7,179.8 L319.7,179.7 L318.7,179.7 L317.7,179.7 L316.7,179.6 L315.7,179.6 L314.7,179.5 L313.7,179.5 L312.7,179.4 L311.7,179.4 L310.7,179.3 L309.7,179.3 L308.7,179.3 L307.7,179.2 L306.7,179.2 L305.7,179.1 L304.7,179.1 L303.7,179.1 L302.7,179 L301.7,179 L300.7,178.9 L299.7,178.9 L298.7,178.9 L297.7,178.8 L296.7,178.8 L295.7,178.8 L294.7,178.7 L293.7,178.7 L292.7,178.6 L291.7,178.6 L290.7,178.6 L289.7,178.5 L288.7,178.5 L287.7,178.5 L286.7,178.4 L285.7,178.4 L284.7,178.4 L283.7,178.3 L282.7,178.3 L281.7,178.3 L280.7,178.3 L279.7,178.2 L278.7,178.2 L277.7,178.2 L276.7,178.1 L275.7,178.1 L274.7,178.1 L273.6,178.1 L272.6,178 L271.6,178 L270.6,178 L269.6,177.9 L268.6,177.9 L267.6,177.9 L266.6,177.9 L265.6,177.9 L264.6,177.8 L263.6,177.8 L262.6,177.8 L261.6,177.8 L260.6,177.7 L259.6,177.7 L258.6,177.7 L257.6,177.7 L256.6,177.7 L255.6,177.6 L254.6,177.6 L253.6,177.6 L252.6,177.6 L251.6,177.6 L250.6,177.5 L249.6,177.5 L248.6,177.5 L247.6,177.5 L246.6,177.5 L245.6,177.5 L244.6,177.4 L243.6,177.4 L242.6,177.4 L241.6,177.4 L240.6,177.4 L239.6,177.4 L238.6,177.4 L237.6,177.3 L236.6,177.3 L235.6,177.3 L234.6,177.3 L233.6,177.3 L232.6,177.3 L231.6,177.3 L230.6,177.3 L229.6,177.3 L228.6,177.2 L227.6,177.2 L226.6,177.2 L225.6,177.2 L224.6,177.2 L223.6,177.2 L222.5,177.2 L221.5,177.2 L220.5,177.2 L219.5,177.1 L218.5,177.1 L217.5,177.1 L216.5,177.1 L215.5,177.1 L214.5,177.1 L213.5,177.1 L212.5,177.1 L211.5,177.1 L210.5,177.1 L209.5,177.1 L208.5,177.1 L207.5,177.1 L206.5,177 L205.5,177 L204.5,177 L203.5,177 L202.5,177 L201.5,177 L200.5,177 L199.5,177 L198.5,177 L197.5,177Z" fill="url(#gg)"/>
<path d="M197.5,176.8 L198.5,176.9 L199.5,176.9 L200.5,176.9 L201.5,176.9 L202.5,176.9 L203.5,176.9 L204.5,176.9 L205.5,176.9 L206.5,176.9 L207.5,176.9 L208.5,176.9 L209.5,176.9 L210.5,176.9 L211.5,176.9 L212.5,176.9 L213.5,176.9 L214.5,176.9 L215.5,176.9 L216.5,176.9 L217.5,176.9 L218.5,176.9 L219.5,176.9 L220.5,176.9 L221.5,176.9 L222.5,176.9 L223.6,176.9 L224.6,176.9 L225.6,176.9 L226.6,176.9 L227.6,176.9 L228.6,176.9 L229.6,176.8 L230.6,176.8 L231.6,176.8 L232.6,176.8 L233.6,176.8 L234.6,176.8 L235.6,176.7 L236.6,176.7 L237.6,176.7 L238.6,176.6 L239.6,176.6 L240.6,176.5 L241.6,176.5 L242.6,176.4 L243.6,176.3 L244.6,176.2 L245.6,176.1 L246.6,176 L247.6,175.9 L248.6,175.8 L249.6,175.7 L250.6,175.5 L251.6,175.4 L252.6,175.2 L253.6,175 L254.6,174.8 L255.6,174.6 L256.6,174.4 L257.6,174.2 L258.6,173.9 L259.6,173.7 L260.6,173.4 L261.6,173.1 L262.6,172.8 L263.6,172.5 L264.6,172.2 L265.6,171.9 L266.6,171.6 L267.6,171.2 L268.6,170.9 L269.6,170.5 L270.6,170.2 L271.6,169.8 L272.6,169.5 L273.6,169.1 L274.7,168.8 L275.7,168.5 L276.7,168.2 L277.7,167.9 L278.7,167.6 L279.7,167.3 L280.7,167.1 L281.7,166.9 L282.7,166.7 L283.7,166.5 L284.7,166.4 L285.7,166.2 L286.7,166.2 L287.7,166.1 L288.7,166.1 L289.7,166.1 L290.7,166 L291.7,166 L292.7,166 L293.7,166 L294.7,165.9 L295.7,165.8 L296.7,165.7 L297.7,165.6 L298.7,165.3 L299.7,165.1 L300.7,164.7 L301.7,164.2 L302.7,163.6 L303.7,162.8 L304.7,161.7 L305.7,160.2 L306.7,158.4 L307.7,156.1 L308.7,153.4 L309.7,150.4 L310.7,147.1 L311.7,143.6 L312.7,140.3 L313.7,137.3 L314.7,134.8 L315.7,133.1 L316.7,132.3 L317.7,132.4 L318.7,133.4 L319.7,135.3 L320.7,137.8 L321.7,140.8 L322.7,144.2 L323.7,147.9 L324.7,151.6 L325.8,155.2 L326.8,158.7 L327.8,162 L328.8,165 L329.8,167.6 L330.8,170 L331.8,172 L332.8,173.8 L333.8,175.2 L334.8,176.4 L335.8,177.3 L336.8,178.1 L337.8,178.7 L338.8,179.2 L339.8,179.5 L340.8,179.8 L341.8,180 L342.8,180.2 L343.8,180.4 L344.8,180.5 L345.8,180.6 L346.8,180.6 L347.8,180.7 L348.8,180.8 L349.8,180.9 L350.8,180.9" fill="none" stroke="#555" stroke-width="0.7"/>
<path d="M197.5,232.8 L198.5,232.8 L199.5,232.8 L200.5,232.8 L201.5,232.8 L202.5,232.8 L203.5,232.8 L204.5,232.8 L205.5,232.8 L206.5,232.8 L207.5,232.8 L208.5,232.8 L209.5,232.8 L210.5,232.8 L211.5,232.8 L212.5,232.8 L213.5,232.8 L214.5,232.8 L215.5,232.8 L216.5,232.8 L217.5,232.8 L218.5,232.8 L219.5,232.8 L220.5,232.8 L221.5,232.8 L222.5,232.8 L223.6,232.8 L224.6,232.8 L225.6,232.8 L226.6,232.8 L227.6,232.8 L228.6,232.8 L229.6,232.8 L230.6,232.8 L231.6,232.8 L232.6,232.8 L233.6,232.8 L234.6,232.8 L235.6,232.8 L236.6,232.8 L237.6,232.8 L238.6,232.8 L239.6,232.8 L240.6,232.8 L241.6,232.8 L242.6,232.8 L243.6,232.8 L244.6,232.8 L245.6,232.8 L246.6,232.8 L247.6,232.8 L248.6,232.8 L249.6,232.8 L250.6,232.8 L251.6,232.8 L252.6,232.8 L253.6,232.8 L254.6,232.8 L255.6,232.8 L256.6,232.8 L257.6,232.8 L258.6,232.8 L259.6,232.8 L260.6,232.8 L261.6,232.8 L262.6,232.8 L263.6,232.8 L264.6,232.8 L265.6,232.8 L266.6,232.8 L267.6,232.8 L268.6,232.8 L269.6,232.8 L270.6,232.8 L271.6,232.8 L272.6,232.8 L273.6,232.8 L274.7,232.8 L275.7,232.8 L276.7,232.8 L277.7,232.8 L278.7,232.8 L279.7,232.7 L280.7,232.7 L281.7,232.7 L282.7,232.7 L283.7,232.7 L284.7,232.6 L285.7,232.6 L286.7,232.6 L287.7,232.5 L288.7,232.5 L289.7,232.4 L290.7,232.3 L291.7,232.2 L292.7,232.1 L293.7,231.9 L294.7,231.7 L295.7,231.4 L296.7,231 L297.7,230.6 L298.7,230 L299.7,229.2 L300.7,228.3 L301.7,227.2 L302.7,225.9 L303.7,224.3 L304.7,222.5 L305.7,220.4 L306.7,218 L307.7,215.5 L308.7,212.7 L309.7,209.7 L310.7,206.7 L311.7,203.6 L312.7,200.7 L313.7,198 L314.7,195.7 L315.7,193.8 L316.7,192.5 L317.7,192 L318.7,192.2 L319.7,193.2 L320.7,195 L321.7,197.3 L322.7,200 L323.7,203.1 L324.7,206.3 L325.8,209.5 L326.8,212.7 L327.8,215.7 L328.8,218.4 L329.8,221 L330.8,223.2 L331.8,225.2 L332.8,226.8 L333.8,228.2 L334.8,229.4 L335.8,230.4 L336.8,231.2 L337.8,231.8 L338.8,232.3 L339.8,232.7 L340.8,233 L341.8,233.3 L342.8,233.5 L343.8,233.6 L344.8,233.8 L345.8,233.9 L346.8,234 L347.8,234.1 L348.8,234.2 L349.8,234.3 L350.8,234.3 L350.8,235.2 L349.8,235.2 L348.8,235.1 L347.8,235.1 L346.8,235.1 L345.8,235.1 L344.8,235.1 L343.8,235 L342.8,235 L341.8,235 L340.8,235 L339.8,234.9 L338.8,234.9 L337.8,234.9 L336.8,234.9 L335.8,234.9 L334.8,234.8 L333.8,234.8 L332.8,234.8 L331.8,234.7 L330.8,234.7 L329.8,234.7 L328.8,234.7 L327.8,234.6 L326.8,234.6 L325.8,234.6 L324.7,234.6 L323.7,234.5 L322.7,234.5 L321.7,234.5 L320.7,234.5 L319.7,234.4 L318.7,234.4 L317.7,234.4 L316.7,234.3 L315.7,234.3 L314.7,234.3 L313.7,234.3 L312.7,234.2 L311.7,234.2 L310.7,234.2 L309.7,234.1 L308.7,234.1 L307.7,234.1 L306.7,234.1 L305.7,234 L304.7,234 L303.7,234 L302.7,233.9 L301.7,233.9 L300.7,233.9 L299.7,233.9 L298.7,233.8 L297.7,233.8 L296.7,233.8 L295.7,233.8 L294.7,233.7 L293.7,233.7 L292.7,233.7 L291.7,233.7 L290.7,233.6 L289.7,233.6 L288.7,233.6 L287.7,233.6 L286.7,233.6 L285.7,233.5 L284.7,233.5 L283.7,233.5 L282.7,233.5 L281.7,233.5 L280.7,233.4 L279.7,233.4 L278.7,233.4 L277.7,233.4 L276.7,233.4 L275.7,233.3 L274.7,233.3 L273.6,233.3 L272.6,233.3 L271.6,233.3 L270.6,233.3 L269.6,233.3 L268.6,233.2 L267.6,233.2 L266.6,233.2 L265.6,233.2 L264.6,233.2 L263.6,233.2 L262.6,233.2 L261.6,233.1 L260.6,233.1 L259.6,233.1 L258.6,233.1 L257.6,233.1 L256.6,233.1 L255.6,233.1 L254.6,233.1 L253.6,233.1 L252.6,233.1 L251.6,233 L250.6,233 L249.6,233 L248.6,233 L247.6,233 L246.6,233 L245.6,233 L244.6,233 L243.6,233 L242.6,233 L241.6,233 L240.6,233 L239.6,233 L238.6,233 L237.6,232.9 L236.6,232.9 L235.6,232.9 L234.6,232.9 L233.6,232.9 L232.6,232.9 L231.6,232.9 L230.6,232.9 L229.6,232.9 L228.6,232.9 L227.6,232.9 L226.6,232.9 L225.6,232.9 L224.6,232.9 L223.6,232.9 L222.5,232.9 L221.5,232.9 L220.5,232.9 L219.5,232.9 L218.5,232.9 L217.5,232.9 L216.5,232.9 L215.5,232.9 L214.5,232.9 L213.5,232.9 L212.5,232.9 L211.5,232.8 L210.5,232.8 L209.5,232.8 L208.5,232.8 L207.5,232.8 L206.5,232.8 L205.5,232.8 L204.5,232.8 L203.5,232.8 L202.5,232.8 L201.5,232.8 L200.5,232.8 L199.5,232.8 L198.5,232.8 L197.5,232.8Z" fill="url(#rg)"/>
<path d="M197.5,232.6 L198.5,232.6 L199.5,232.6 L200.5,232.6 L201.5,232.6 L202.5,232.6 L203.5,232.6 L204.5,232.6 L205.5,232.6 L206.5,232.6 L207.5,232.6 L208.5,232.6 L209.5,232.6 L210.5,232.6 L211.5,232.6 L212.5,232.6 L213.5,232.6 L214.5,232.6 L215.5,232.6 L216.5,232.6 L217.5,232.6 L218.5,232.6 L219.5,232.6 L220.5,232.5 L221.5,232.5 L222.5,232.5 L223.6,232.5 L224.6,232.5 L225.6,232.5 L226.6,232.5 L227.6,232.5 L228.6,232.5 L229.6,232.5 L230.6,232.5 L231.6,232.5 L232.6,232.5 L233.6,232.4 L234.6,232.4 L235.6,232.4 L236.6,232.4 L237.6,232.4 L238.6,232.4 L239.6,232.4 L240.6,232.3 L241.6,232.3 L242.6,232.3 L243.6,232.3 L244.6,232.2 L245.6,232.2 L246.6,232.2 L247.6,232.2 L248.6,232.1 L249.6,232.1 L250.6,232 L251.6,232 L252.6,231.9 L253.6,231.8 L254.6,231.8 L255.6,231.7 L256.6,231.6 L257.6,231.5 L258.6,231.4 L259.6,231.3 L260.6,231.1 L261.6,231 L262.6,230.8 L263.6,230.6 L264.6,230.4 L265.6,230.2 L266.6,230 L267.6,229.7 L268.6,229.5 L269.6,229.2 L270.6,228.9 L271.6,228.5 L272.6,228.2 L273.6,227.8 L274.7,227.5 L275.7,227.1 L276.7,226.7 L277.7,226.3 L278.7,225.9 L279.7,225.5 L280.7,225.1 L281.7,224.7 L282.7,224.4 L283.7,224.1 L284.7,223.8 L285.7,223.5 L286.7,223.4 L287.7,223.2 L288.7,223.2 L289.7,223.2 L290.7,223.2 L291.7,223.4 L292.7,223.5 L293.7,223.8 L294.7,224 L295.7,224.4 L296.7,224.7 L297.7,225.1 L298.7,225.5 L299.7,225.9 L300.7,226.3 L301.7,226.7 L302.7,227.2 L303.7,227.6 L304.7,228 L305.7,228.4 L306.7,228.8 L307.7,229.1 L308.7,229.5 L309.7,229.9 L310.7,230.2 L311.7,230.5 L312.7,230.8 L313.7,231.1 L314.7,231.3 L315.7,231.6 L316.7,231.8 L317.7,232 L318.7,232.2 L319.7,232.4 L320.7,232.6 L321.7,232.7 L322.7,232.9 L323.7,233 L324.7,233.1 L325.8,233.2 L326.8,233.4 L327.8,233.5 L328.8,233.6 L329.8,233.6 L330.8,233.7 L331.8,233.8 L332.8,233.9 L333.8,233.9 L334.8,234 L335.8,234.1 L336.8,234.1 L337.8,234.2 L338.8,234.2 L339.8,234.3 L340.8,234.3 L341.8,234.4 L342.8,234.4 L343.8,234.5 L344.8,234.5 L345.8,234.6 L346.8,234.6 L347.8,234.6 L348.8,234.7 L349.8,234.7 L350.8,234.7 L350.8,235.2 L349.8,235.2 L348.8,235.1 L347.8,235.1 L346.8,235.1 L345.8,235.1 L344.8,235.1 L343.8,235 L342.8,235 L341.8,235 L340.8,235 L339.8,234.9 L338.8,234.9 L337.8,234.9 L336.8,234.9 L335.8,234.9 L334.8,234.8 L333.8,234.8 L332.8,234.8 L331.8,234.7 L330.8,234.7 L329.8,234.7 L328.8,234.7 L327.8,234.6 L326.8,234.6 L325.8,234.6 L324.7,234.6 L323.7,234.5 L322.7,234.5 L321.7,234.5 L320.7,234.5 L319.7,234.4 L318.7,234.4 L317.7,234.4 L316.7,234.3 L315.7,234.3 L314.7,234.3 L313.7,234.3 L312.7,234.2 L311.7,234.2 L310.7,234.2 L309.7,234.1 L308.7,234.1 L307.7,234.1 L306.7,234.1 L305.7,234 L304.7,234 L303.7,234 L302.7,233.9 L301.7,233.9 L300.7,233.9 L299.7,233.9 L298.7,233.8 L297.7,233.8 L296.7,233.8 L295.7,233.8 L294.7,233.7 L293.7,233.7 L292.7,233.7 L291.7,233.7 L290.7,233.6 L289.7,233.6 L288.7,233.6 L287.7,233.6 L286.7,233.6 L285.7,233.5 L284.7,233.5 L283.7,233.5 L282.7,233.5 L281.7,233.5 L280.7,233.4 L279.7,233.4 L278.7,233.4 L277.7,233.4 L276.7,233.4 L275.7,233.3 L274.7,233.3 L273.6,233.3 L272.6,233.3 L271.6,233.3 L270.6,233.3 L269.6,233.3 L268.6,233.2 L267.6,233.2 L266.6,233.2 L265.6,233.2 L264.6,233.2 L263.6,233.2 L262.6,233.2 L261.6,233.1 L260.6,233.1 L259.6,233.1 L258.6,233.1 L257.6,233.1 L256.6,233.1 L255.6,233.1 L254.6,233.1 L253.6,233.1 L252.6,233.1 L251.6,233 L250.6,233 L249.6,233 L248.6,233 L247.6,233 L246.6,233 L245.6,233 L244.6,233 L243.6,233 L242.6,233 L241.6,233 L240.6,233 L239.6,233 L238.6,233 L237.6,232.9 L236.6,232.9 L235.6,232.9 L234.6,232.9 L233.6,232.9 L232.6,232.9 L231.6,232.9 L230.6,232.9 L229.6,232.9 L228.6,232.9 L227.6,232.9 L226.6,232.9 L225.6,232.9 L224.6,232.9 L223.6,232.9 L222.5,232.9 L221.5,232.9 L220.5,232.9 L219.5,232.9 L218.5,232.9 L217.5,232.9 L216.5,232.9 L215.5,232.9 L214.5,232.9 L213.5,232.9 L212.5,232.9 L211.5,232.8 L210.5,232.8 L209.5,232.8 L208.5,232.8 L207.5,232.8 L206.5,232.8 L205.5,232.8 L204.5,232.8 L203.5,232.8 L202.5,232.8 L201.5,232.8 L200.5,232.8 L199.5,232.8 L198.5,232.8 L197.5,232.8Z" fill="url(#gg)"/>
<path d="M197.5,232.6 L198.5,232.6 L199.5,232.6 L200.5,232.6 L201.5,232.6 L202.5,232.6 L203.5,232.6 L204.5,232.6 L205.5,232.6 L206.5,232.6 L207.5,232.6 L208.5,232.6 L209.5,232.6 L210.5,232.6 L211.5,232.6 L212.5,232.6 L213.5,232.6 L214.5,232.6 L215.5,232.6 L216.5,232.6 L217.5,232.6 L218.5,232.6 L219.5,232.6 L220.5,232.5 L221.5,232.5 L222.5,232.5 L223.6,232.5 L224.6,232.5 L225.6,232.5 L226.6,232.5 L227.6,232.5 L228.6,232.5 L229.6,232.5 L230.6,232.5 L231.6,232.5 L232.6,232.5 L233.6,232.4 L234.6,232.4 L235.6,232.4 L236.6,232.4 L237.6,232.4 L238.6,232.4 L239.6,232.4 L240.6,232.3 L241.6,232.3 L242.6,232.3 L243.6,232.3 L244.6,232.2 L245.6,232.2 L246.6,232.2 L247.6,232.2 L248.6,232.1 L249.6,232.1 L250.6,232 L251.6,232 L252.6,231.9 L253.6,231.8 L254.6,231.8 L255.6,231.7 L256.6,231.6 L257.6,231.5 L258.6,231.4 L259.6,231.3 L260.6,231.1 L261.6,231 L262.6,230.8 L263.6,230.6 L264.6,230.4 L265.6,230.2 L266.6,230 L267.6,229.7 L268.6,229.5 L269.6,229.2 L270.6,228.9 L271.6,228.5 L272.6,228.2 L273.6,227.8 L274.7,227.5 L275.7,227.1 L276.7,226.7 L277.7,226.3 L278.7,225.9 L279.7,225.5 L280.7,225.1 L281.7,224.7 L282.7,224.4 L283.7,224.1 L284.7,223.8 L285.7,223.5 L286.7,223.3 L287.7,223.2 L288.7,223.1 L289.7,223.1 L290.7,223.1 L291.7,223.1 L292.7,223.2 L293.7,223.2 L294.7,223.3 L295.7,223.3 L296.7,223.2 L297.7,223.1 L298.7,222.8 L299.7,222.4 L300.7,221.8 L301.7,221 L302.7,220 L303.7,218.7 L304.7,217.1 L305.7,215.2 L306.7,213 L307.7,210.5 L308.7,207.7 L309.7,204.8 L310.7,201.7 L311.7,198.7 L312.7,195.7 L313.7,193 L314.7,190.7 L315.7,188.9 L316.7,187.8 L317.7,187.4 L318.7,187.8 L319.7,189.1 L320.7,191 L321.7,193.6 L322.7,196.7 L323.7,200.2 L324.7,203.8 L325.8,207.5 L326.8,211.1 L327.8,214.5 L328.8,217.7 L329.8,220.6 L330.8,223.2 L331.8,225.4 L332.8,227.3 L333.8,228.9 L334.8,230.2 L335.8,231.2 L336.8,232.1 L337.8,232.7 L338.8,233.2 L339.8,233.6 L340.8,233.8 L341.8,234.1 L342.8,234.2 L343.8,234.3 L344.8,234.4 L345.8,234.5 L346.8,234.6 L347.8,234.6 L348.8,234.7 L349.8,234.7 L350.8,234.7" fill="none" stroke="#555" stroke-width="0.7"/>
<line x1="92.5" y1="34.5" x2="92.5" y2="244" stroke="#000" stroke-opacity="0.5" stroke-width="0.6" stroke-dasharray="1.9,1.7"/>
<line x1="104.3" y1="31.5" x2="104.3" y2="244" stroke="#000" stroke-opacity="0.5" stroke-width="0.6" stroke-dasharray="1.9,1.7"/>
<line x1="273.6" y1="26" x2="273.6" y2="244" stroke="#000" stroke-opacity="0.5" stroke-width="0.6" stroke-dasharray="1.9,1.7"/>
<line x1="316.9" y1="17.5" x2="316.9" y2="244" stroke="#000" stroke-opacity="0.5" stroke-width="0.6" stroke-dasharray="1.9,1.7"/>
<rect x="15" y="9.2" width="153.3" height="235" fill="none" stroke="#555" stroke-width="1"/>
<line x1="15" y1="68" x2="168.3" y2="68" stroke="#555" stroke-width="1"/>
<line x1="15" y1="127.3" x2="168.3" y2="127.3" stroke="#555" stroke-width="1"/>
<line x1="15" y1="185.5" x2="168.3" y2="185.5" stroke="#555" stroke-width="1"/>
<rect x="197.5" y="9.2" width="153.3" height="235" fill="none" stroke="#555" stroke-width="1"/>
<line x1="197.5" y1="68" x2="350.8" y2="68" stroke="#555" stroke-width="1"/>
<line x1="197.5" y1="123.8" x2="350.8" y2="123.8" stroke="#555" stroke-width="1"/>
<line x1="197.5" y1="185.3" x2="350.8" y2="185.3" stroke="#555" stroke-width="1"/>
<line x1="15" y1="244" x2="15" y2="246.7" stroke="#333" stroke-width="0.7"/>
<text x="15" y="252.8" font-size="4.8" fill="#1a1a1a" stroke="#1a1a1a" stroke-width="0.12" font-weight="bold" text-anchor="middle">648</text>
<line x1="22" y1="244" x2="22" y2="245.6" stroke="#333" stroke-width="0.7"/>
<line x1="28.9" y1="244" x2="28.9" y2="246.7" stroke="#333" stroke-width="0.7"/>
<text x="28.9" y="252.8" font-size="4.8" fill="#1a1a1a" stroke="#1a1a1a" stroke-width="0.12" font-weight="bold" text-anchor="middle">647</text>
<line x1="35.9" y1="244" x2="35.9" y2="245.6" stroke="#333" stroke-width="0.7"/>
<line x1="42.9" y1="244" x2="42.9" y2="246.7" stroke="#333" stroke-width="0.7"/>
<text x="42.9" y="252.8" font-size="4.8" fill="#1a1a1a" stroke="#1a1a1a" stroke-width="0.12" font-weight="bold" text-anchor="middle">646</text>
<line x1="49.8" y1="244" x2="49.8" y2="245.6" stroke="#333" stroke-width="0.7"/>
<line x1="56.8" y1="244" x2="56.8" y2="246.7" stroke="#333" stroke-width="0.7"/>
<text x="56.8" y="252.8" font-size="4.8" fill="#1a1a1a" stroke="#1a1a1a" stroke-width="0.12" font-weight="bold" text-anchor="middle">645</text>
<line x1="63.8" y1="244" x2="63.8" y2="245.6" stroke="#333" stroke-width="0.7"/>
<line x1="70.7" y1="244" x2="70.7" y2="246.7" stroke="#333" stroke-width="0.7"/>
<text x="70.7" y="252.8" font-size="4.8" fill="#1a1a1a" stroke="#1a1a1a" stroke-width="0.12" font-weight="bold" text-anchor="middle">644</text>
<line x1="77.7" y1="244" x2="77.7" y2="245.6" stroke="#333" stroke-width="0.7"/>
<line x1="84.7" y1="244" x2="84.7" y2="246.7" stroke="#333" stroke-width="0.7"/>
<text x="84.7" y="252.8" font-size="4.8" fill="#1a1a1a" stroke="#1a1a1a" stroke-width="0.12" font-weight="bold" text-anchor="middle">643</text>
<line x1="91.7" y1="244" x2="91.7" y2="245.6" stroke="#333" stroke-width="0.7"/>
<line x1="98.6" y1="244" x2="98.6" y2="246.7" stroke="#333" stroke-width="0.7"/>
<text x="98.6" y="252.8" font-size="4.8" fill="#1a1a1a" stroke="#1a1a1a" stroke-width="0.12" font-weight="bold" text-anchor="middle">642</text>
<line x1="105.6" y1="244" x2="105.6" y2="245.6" stroke="#333" stroke-width="0.7"/>
<line x1="112.6" y1="244" x2="112.6" y2="246.7" stroke="#333" stroke-width="0.7"/>
<text x="112.6" y="252.8" font-size="4.8" fill="#1a1a1a" stroke="#1a1a1a" stroke-width="0.12" font-weight="bold" text-anchor="middle">641</text>
<line x1="119.5" y1="244" x2="119.5" y2="245.6" stroke="#333" stroke-width="0.7"/>
<line x1="126.5" y1="244" x2="126.5" y2="246.7" stroke="#333" stroke-width="0.7"/>
<text x="126.5" y="252.8" font-size="4.8" fill="#1a1a1a" stroke="#1a1a1a" stroke-width="0.12" font-weight="bold" text-anchor="middle">640</text>
<line x1="133.5" y1="244" x2="133.5" y2="245.6" stroke="#333" stroke-width="0.7"/>
<line x1="140.4" y1="244" x2="140.4" y2="246.7" stroke="#333" stroke-width="0.7"/>
<text x="140.4" y="252.8" font-size="4.8" fill="#1a1a1a" stroke="#1a1a1a" stroke-width="0.12" font-weight="bold" text-anchor="middle">639</text>
<line x1="147.4" y1="244" x2="147.4" y2="245.6" stroke="#333" stroke-width="0.7"/>
<line x1="154.4" y1="244" x2="154.4" y2="246.7" stroke="#333" stroke-width="0.7"/>
<text x="154.4" y="252.8" font-size="4.8" fill="#1a1a1a" stroke="#1a1a1a" stroke-width="0.12" font-weight="bold" text-anchor="middle">638</text>
<line x1="161.3" y1="244" x2="161.3" y2="245.6" stroke="#333" stroke-width="0.7"/>
<line x1="168.3" y1="244" x2="168.3" y2="246.7" stroke="#333" stroke-width="0.7"/>
<text x="168.3" y="252.8" font-size="4.8" fill="#1a1a1a" stroke="#1a1a1a" stroke-width="0.12" font-weight="bold" text-anchor="middle">637</text>
<line x1="197.5" y1="244" x2="197.5" y2="246.7" stroke="#333" stroke-width="0.7"/>
<text x="197.5" y="252.8" font-size="4.8" fill="#1a1a1a" stroke="#1a1a1a" stroke-width="0.12" font-weight="bold" text-anchor="middle">537</text>
<line x1="205.2" y1="244" x2="205.2" y2="245.6" stroke="#333" stroke-width="0.7"/>
<line x1="212.8" y1="244" x2="212.8" y2="246.7" stroke="#333" stroke-width="0.7"/>
<text x="212.8" y="252.8" font-size="4.8" fill="#1a1a1a" stroke="#1a1a1a" stroke-width="0.12" font-weight="bold" text-anchor="middle">536</text>
<line x1="220.5" y1="244" x2="220.5" y2="245.6" stroke="#333" stroke-width="0.7"/>
<line x1="228.2" y1="244" x2="228.2" y2="246.7" stroke="#333" stroke-width="0.7"/>
<text x="228.2" y="252.8" font-size="4.8" fill="#1a1a1a" stroke="#1a1a1a" stroke-width="0.12" font-weight="bold" text-anchor="middle">535</text>
<line x1="235.8" y1="244" x2="235.8" y2="245.6" stroke="#333" stroke-width="0.7"/>
<line x1="243.5" y1="244" x2="243.5" y2="246.7" stroke="#333" stroke-width="0.7"/>
<text x="243.5" y="252.8" font-size="4.8" fill="#1a1a1a" stroke="#1a1a1a" stroke-width="0.12" font-weight="bold" text-anchor="middle">534</text>
<line x1="251.2" y1="244" x2="251.2" y2="245.6" stroke="#333" stroke-width="0.7"/>
<line x1="258.8" y1="244" x2="258.8" y2="246.7" stroke="#333" stroke-width="0.7"/>
<text x="258.8" y="252.8" font-size="4.8" fill="#1a1a1a" stroke="#1a1a1a" stroke-width="0.12" font-weight="bold" text-anchor="middle">533</text>
<line x1="266.5" y1="244" x2="266.5" y2="245.6" stroke="#333" stroke-width="0.7"/>
<line x1="274.1" y1="244" x2="274.1" y2="246.7" stroke="#333" stroke-width="0.7"/>
<text x="274.1" y="252.8" font-size="4.8" fill="#1a1a1a" stroke="#1a1a1a" stroke-width="0.12" font-weight="bold" text-anchor="middle">532</text>
<line x1="281.8" y1="244" x2="281.8" y2="245.6" stroke="#333" stroke-width="0.7"/>
<line x1="289.5" y1="244" x2="289.5" y2="246.7" stroke="#333" stroke-width="0.7"/>
<text x="289.5" y="252.8" font-size="4.8" fill="#1a1a1a" stroke="#1a1a1a" stroke-width="0.12" font-weight="bold" text-anchor="middle">531</text>
<line x1="297.1" y1="244" x2="297.1" y2="245.6" stroke="#333" stroke-width="0.7"/>
<line x1="304.8" y1="244" x2="304.8" y2="246.7" stroke="#333" stroke-width="0.7"/>
<text x="304.8" y="252.8" font-size="4.8" fill="#1a1a1a" stroke="#1a1a1a" stroke-width="0.12" font-weight="bold" text-anchor="middle">530</text>
<line x1="312.5" y1="244" x2="312.5" y2="245.6" stroke="#333" stroke-width="0.7"/>
<line x1="320.1" y1="244" x2="320.1" y2="246.7" stroke="#333" stroke-width="0.7"/>
<text x="320.1" y="252.8" font-size="4.8" fill="#1a1a1a" stroke="#1a1a1a" stroke-width="0.12" font-weight="bold" text-anchor="middle">529</text>
<line x1="327.8" y1="244" x2="327.8" y2="245.6" stroke="#333" stroke-width="0.7"/>
<line x1="335.5" y1="244" x2="335.5" y2="246.7" stroke="#333" stroke-width="0.7"/>
<text x="335.5" y="252.8" font-size="4.8" fill="#1a1a1a" stroke="#1a1a1a" stroke-width="0.12" font-weight="bold" text-anchor="middle">528</text>
<line x1="343.1" y1="244" x2="343.1" y2="245.6" stroke="#333" stroke-width="0.7"/>
<line x1="350.8" y1="244" x2="350.8" y2="246.7" stroke="#333" stroke-width="0.7"/>
<text x="350.8" y="252.8" font-size="4.8" fill="#1a1a1a" stroke="#1a1a1a" stroke-width="0.12" font-weight="bold" text-anchor="middle">527</text>
<text x="91.6" y="264.3" font-size="6.1" fill="#222" stroke="#222" stroke-width="0.22" font-weight="bold" text-anchor="middle">B.E. (eV)</text>
<text x="274.1" y="263.6" font-size="6.1" fill="#222" stroke="#222" stroke-width="0.22" font-weight="bold" text-anchor="middle">B.E. (eV)</text>
<text x="87.4" y="276.1" font-size="10.8" fill="#111" stroke="#111" stroke-width="0.22" font-weight="bold" text-anchor="middle">(a)</text>
<text x="274.8" y="275.6" font-size="10.8" fill="#111" stroke="#111" stroke-width="0.22" font-weight="bold" text-anchor="middle">(b)</text>
<text transform="translate(9.9,127.8) rotate(-90)" font-size="6.3" font-weight="bold" fill="#1a1a1a" stroke="#1a1a1a" stroke-width="0.2" text-anchor="middle">Intensity (a.u.)</text>
<text transform="translate(191.9,123.3) rotate(-90)" font-size="6.3" font-weight="bold" fill="#1a1a1a" stroke="#1a1a1a" stroke-width="0.2" text-anchor="middle">Intensity (a.u.)</text>
<text x="17.5" y="17.6" font-size="6.1" fill="#111" stroke="#111" stroke-width="0.22" font-weight="bold" text-anchor="start">Mn 2p</text>
<text x="139.1" y="19.1" font-size="6.1" fill="#111" stroke="#111" stroke-width="0.22" font-weight="bold" text-anchor="start">Mn 2p<tspan dy="2.5" dx="0.3" font-size="6.2" letter-spacing="0.45">3/2</tspan></text>
<text x="69.1" y="23.6" font-size="5.4" fill="#2a9a48" stroke="#2a9a48" stroke-width="0.22" font-weight="bold" text-anchor="start">Mn<tspan dy="-3.8" font-size="4.4">4+</tspan></text>
<text x="119.9" y="29.5" font-size="5.4" fill="#e8263a" stroke="#e8263a" stroke-width="0.22" font-weight="bold" text-anchor="start">Mn<tspan dy="-3.4" font-size="4.4">3+</tspan></text>
<text x="17.7" y="24.9" font-size="4.95" fill="#111" stroke="#111" stroke-width="0.22" font-weight="bold" text-anchor="start">125w</text>
<text x="18.5" y="35.7" font-size="5.85" fill="#111" stroke="#111" stroke-width="0.22" font-weight="bold" text-anchor="start"><tspan fill="#e8263a" stroke="#e8263a">Mn</tspan><tspan fill="#e8263a" stroke="#e8263a" dy="-3.5" font-size="4.5">3+</tspan><tspan dy="3.5" dx="0.3"> / </tspan><tspan fill="#2a9a48" stroke="#2a9a48">Mn</tspan><tspan fill="#2a9a48" stroke="#2a9a48" dy="-3.5" font-size="4.5">4+</tspan><tspan dy="3.5"> = 1.14</tspan></text>
<text x="18.2" y="81.2" font-size="4.95" fill="#111" stroke="#111" stroke-width="0.22" font-weight="bold" text-anchor="start">100W</text>
<text x="18.5" y="90.8" font-size="5.85" fill="#111" stroke="#111" stroke-width="0.22" font-weight="bold" text-anchor="start"><tspan fill="#e8263a" stroke="#e8263a">Mn</tspan><tspan fill="#e8263a" stroke="#e8263a" dy="-3.5" font-size="4.5">3+</tspan><tspan dy="3.5" dx="0.3"> / </tspan><tspan fill="#2a9a48" stroke="#2a9a48">Mn</tspan><tspan fill="#2a9a48" stroke="#2a9a48" dy="-3.5" font-size="4.5">4+</tspan><tspan dy="3.5"> = 0.97</tspan></text>
<text x="18.7" y="141.5" font-size="4.95" fill="#111" stroke="#111" stroke-width="0.22" font-weight="bold" text-anchor="start">75W</text>
<text x="18.5" y="151.3" font-size="5.85" fill="#111" stroke="#111" stroke-width="0.22" font-weight="bold" text-anchor="start"><tspan fill="#e8263a" stroke="#e8263a">Mn</tspan><tspan fill="#e8263a" stroke="#e8263a" dy="-3.5" font-size="4.5">3+</tspan><tspan dy="3.5" dx="0.3"> / </tspan><tspan fill="#2a9a48" stroke="#2a9a48">Mn</tspan><tspan fill="#2a9a48" stroke="#2a9a48" dy="-3.5" font-size="4.5">4+</tspan><tspan dy="3.5"> = 0.82</tspan></text>
<text x="18.1" y="199.9" font-size="5.7" fill="#111" stroke="#111" stroke-width="0.22" font-weight="bold" text-anchor="start">Fresh catalyst</text>
<text x="18.5" y="209.4" font-size="5.85" fill="#111" stroke="#111" stroke-width="0.22" font-weight="bold" text-anchor="start"><tspan fill="#e8263a" stroke="#e8263a">Mn</tspan><tspan fill="#e8263a" stroke="#e8263a" dy="-3.5" font-size="4.5">3+</tspan><tspan dy="3.5" dx="0.3"> / </tspan><tspan fill="#2a9a48" stroke="#2a9a48">Mn</tspan><tspan fill="#2a9a48" stroke="#2a9a48" dy="-3.5" font-size="4.5">4+</tspan><tspan dy="3.5"> = 0.41</tspan></text>
<text x="201" y="16.6" font-size="6.2" fill="#111" stroke="#111" stroke-width="0.22" font-weight="bold" text-anchor="start">O 1s</text>
<text x="254.3" y="18.6" font-size="6.0" fill="#2a9a48" stroke="#2a9a48" stroke-width="0.22" font-weight="bold" text-anchor="start">O<tspan dy="1.9" font-size="5.4">ads</tspan></text>
<text x="327.9" y="17.4" font-size="5.8" fill="#e8263a" stroke="#e8263a" stroke-width="0.22" font-weight="bold" text-anchor="start">O<tspan dy="2.1" font-size="5.6">latt</tspan></text>
<text x="201.4" y="24.9" font-size="4.95" fill="#111" stroke="#111" stroke-width="0.22" font-weight="bold" text-anchor="start">125W</text>
<text x="200.9" y="33.6" font-size="5.85" fill="#111" stroke="#111" stroke-width="0.22" font-weight="bold" text-anchor="start"><tspan fill="#2a9a48" stroke="#2a9a48">O</tspan><tspan fill="#2a9a48" stroke="#2a9a48" dy="2.2" font-size="5.1">ads</tspan><tspan dy="-2.2"> / </tspan><tspan fill="#e8263a" stroke="#e8263a">O</tspan><tspan fill="#e8263a" stroke="#e8263a" dy="2.2" font-size="5.1">latt</tspan><tspan dy="-2.2"> = 1.64</tspan></text>
<text x="201.9" y="81.6" font-size="4.95" fill="#111" stroke="#111" stroke-width="0.22" font-weight="bold" text-anchor="start">100W</text>
<text x="201.6" y="90" font-size="5.85" fill="#111" stroke="#111" stroke-width="0.22" font-weight="bold" text-anchor="start"><tspan fill="#2a9a48" stroke="#2a9a48">O</tspan><tspan fill="#2a9a48" stroke="#2a9a48" dy="2.2" font-size="5.1">ads</tspan><tspan dy="-2.2"> / </tspan><tspan fill="#e8263a" stroke="#e8263a">O</tspan><tspan fill="#e8263a" stroke="#e8263a" dy="2.2" font-size="5.1">latt</tspan><tspan dy="-2.2"> = 1.19</tspan></text>
<text x="202.4" y="139.3" font-size="4.95" fill="#111" stroke="#111" stroke-width="0.22" font-weight="bold" text-anchor="start">75W</text>
<text x="201.9" y="147.4" font-size="5.85" fill="#111" stroke="#111" stroke-width="0.22" font-weight="bold" text-anchor="start"><tspan fill="#2a9a48" stroke="#2a9a48">O</tspan><tspan fill="#2a9a48" stroke="#2a9a48" dy="2.2" font-size="5.1">ads</tspan><tspan dy="-2.2"> / </tspan><tspan fill="#e8263a" stroke="#e8263a">O</tspan><tspan fill="#e8263a" stroke="#e8263a" dy="2.2" font-size="5.1">latt</tspan><tspan dy="-2.2"> = 0.83</tspan></text>
<text x="203" y="199.9" font-size="5.7" fill="#111" stroke="#111" stroke-width="0.22" font-weight="bold" text-anchor="start">Fresh catalyst</text>
<text x="202.4" y="207.4" font-size="5.85" fill="#111" stroke="#111" stroke-width="0.22" font-weight="bold" text-anchor="start"><tspan fill="#2a9a48" stroke="#2a9a48">O</tspan><tspan fill="#2a9a48" stroke="#2a9a48" dy="2.2" font-size="5.1">ads</tspan><tspan dy="-2.2"> / </tspan><tspan fill="#e8263a" stroke="#e8263a">O</tspan><tspan fill="#e8263a" stroke="#e8263a" dy="2.2" font-size="5.1">latt</tspan><tspan dy="-2.2"> = 0.51</tspan></text>
<text x="413.8" y="101.8" font-size="9.6" fill="#1c1c1c" stroke="#1c1c1c" stroke-width="0.18" font-weight="normal" text-anchor="start">CO<tspan dy="1.6" font-size="6">2</tspan><tspan dy="-1.6"> + H</tspan><tspan dy="1.6" font-size="6">2</tspan><tspan dy="-1.6">O</tspan></text>
<text x="411.3" y="137.3" font-size="9.6" fill="#1c1c1c" stroke="#1c1c1c" stroke-width="0.18" font-weight="normal" text-anchor="start">C<tspan dy="1.6" font-size="6">7</tspan><tspan dy="-1.6">H</tspan><tspan dy="1.6" font-size="6">8</tspan><tspan dy="-1.6"> + O</tspan><tspan dy="1.6" font-size="6">latt</tspan></text>
<text x="489.5" y="136.9" font-size="9.6" fill="#1c1c1c" stroke="#1c1c1c" stroke-width="0.18" font-weight="normal" text-anchor="start">O<tspan dy="1.6" font-size="6">ads</tspan></text>
<text x="423.4" y="167.2" font-size="9.6" fill="#1c1c1c" stroke="#1c1c1c" stroke-width="0.18" font-weight="normal" text-anchor="start">Mn<tspan dy="-3" font-size="6">4+</tspan></text>
<text x="476.8" y="167.2" font-size="9.6" fill="#1c1c1c" stroke="#1c1c1c" stroke-width="0.18" font-weight="normal" text-anchor="start">Mn<tspan dy="-3" font-size="6">3+</tspan></text>
<text x="370.6" y="155" font-size="8.8" fill="#1c1c1c" stroke="#1c1c1c" stroke-width="0.18" font-weight="normal" text-anchor="start">e<tspan dy="-3.4" font-size="5.5">-</tspan></text>
<text x="539.8" y="152.8" font-size="8.8" fill="#1c1c1c" stroke="#1c1c1c" stroke-width="0.18" font-weight="normal" text-anchor="start">e<tspan dy="-3.4" font-size="5.5">-</tspan></text>
<text x="454.5" y="193" font-size="10.5" fill="#111" stroke="#111" stroke-width="0.22" font-weight="bold" text-anchor="middle">(c)</text>
<line x1="436.4" y1="125.5" x2="436.4" y2="112" stroke="#7d93e0" stroke-width="0.8" stroke-dasharray="1.1,2.5"/>
<path d="M434.9,113.5 L436.4,110.8 L437.9,113.5Z" fill="#7d93e0"/>
<line x1="462" y1="133.6" x2="481" y2="133.6" stroke="#7d93e0" stroke-width="0.8" stroke-dasharray="1.1,2.5"/>
<path d="M462.5,132.1 L459.8,133.6 L462.5,135.1Z" fill="#7d93e0"/>
<path d="M480.5,132.1 L483.2,133.6 L480.5,135.1Z" fill="#7d93e0"/>
<line x1="452.5" y1="164.2" x2="470" y2="164.2" stroke="#7d93e0" stroke-width="0.8" stroke-dasharray="1.1,2.5"/>
<path d="M452.5,162.7 L449.8,164.2 L452.5,165.7Z" fill="#7d93e0"/>
<path d="M470,162.7 L472.7,164.2 L470,165.7Z" fill="#7d93e0"/>
<defs><linearGradient id="al" gradientUnits="userSpaceOnUse" x1="0" y1="133" x2="0" y2="172"><stop offset="0" stop-color="#2b7bb1"/><stop offset="0.5" stop-color="#3287bf"/><stop offset="0.75" stop-color="#3d96ce"/><stop offset="1" stop-color="#48a0d6"/></linearGradient><linearGradient id="ar" gradientUnits="userSpaceOnUse" x1="0" y1="131" x2="0" y2="169"><stop offset="0" stop-color="#3f98d0"/><stop offset="0.55" stop-color="#3990c8"/><stop offset="1" stop-color="#2c7db2"/></linearGradient></defs>
<path d="M405.8,133.3 C405,133.5 402.8,133.9 401.1,134.5 C399.4,135.1 397.6,136 395.8,137 C394,138 392,139.1 390.5,140.6 C389,142.1 387.8,144.1 386.8,145.9 C385.8,147.7 385.1,149.4 384.7,151.2 C384.3,153 384.3,154.9 384.4,156.5 C384.5,158.1 384.9,159.2 385.3,160.5 C385.7,161.8 386,162.9 386.8,164 C387.6,165.1 388.7,166.4 390.1,167.3 C391.5,168.2 393.2,168.8 395.4,169.2 C397.6,169.6 400.8,169.4 403.3,169.5 C405.8,169.6 409.1,169.5 410.3,169.5 L412.5,172.4 L416.9,164.2 L408.1,159.2 L407.8,163.2 L407.8,163.2 C406.8,163.3 403.9,163.6 401.5,163.6 C399.1,163.6 395.6,163.6 393.6,163.2 C391.6,162.8 390.4,162.2 389.3,161.4 C388.2,160.6 387.6,159.3 387.3,158.3 C387,157.3 387.1,156.7 387.4,155.4 C387.7,154.1 388.1,152.2 389,150.7 C389.9,149.2 391.1,147.7 392.6,146.4 C394.1,145.1 396,143.9 397.9,142.8 C399.8,141.8 402.5,140.7 404.2,140.1 C405.9,139.5 407.3,139.3 407.9,139.1 Z" fill="url(#al)"/>
<path d="M515.7,133.7 C516.5,134 519,134.8 520.5,135.5 C522,136.2 523.5,136.7 524.9,137.6 C526.3,138.5 527.8,139.9 528.9,141.2 C530,142.5 530.9,144 531.5,145.5 C532.1,147 532.5,148.8 532.7,150 C532.9,151.2 533,151.8 532.9,153 C532.8,154.2 532.4,156 532,157.3 C531.6,158.6 531.2,159.7 530.3,160.8 C529.3,161.9 528,163 526.3,163.9 C524.6,164.8 522.7,165.8 520.2,166.5 C517.7,167.2 514.2,167.7 511.4,168 C508.6,168.3 504.8,168.2 503.5,168.2 L503.1,161.7 C504.1,161.7 506.4,161.7 508.8,161.5 C511.2,161.3 514.7,161.2 517.5,160.8 C520.3,160.4 523.4,159.7 525.4,159 C527.4,158.3 528.5,157.7 529.4,156.8 C530.3,155.9 530.7,154.9 530.7,153.8 C530.7,152.7 530.3,151.3 529.6,150 C528.9,148.7 527.7,147.2 526.5,146 C525.3,144.8 523.7,143.4 522.3,142.5 C520.9,141.6 519.3,141.1 517.9,140.7 C516.5,140.3 514.6,140.4 514,140.3 L513.5,143.8 L508.3,135.9 L515.7,130.6 Z" fill="url(#ar)"/>
</svg>
</body></html>
